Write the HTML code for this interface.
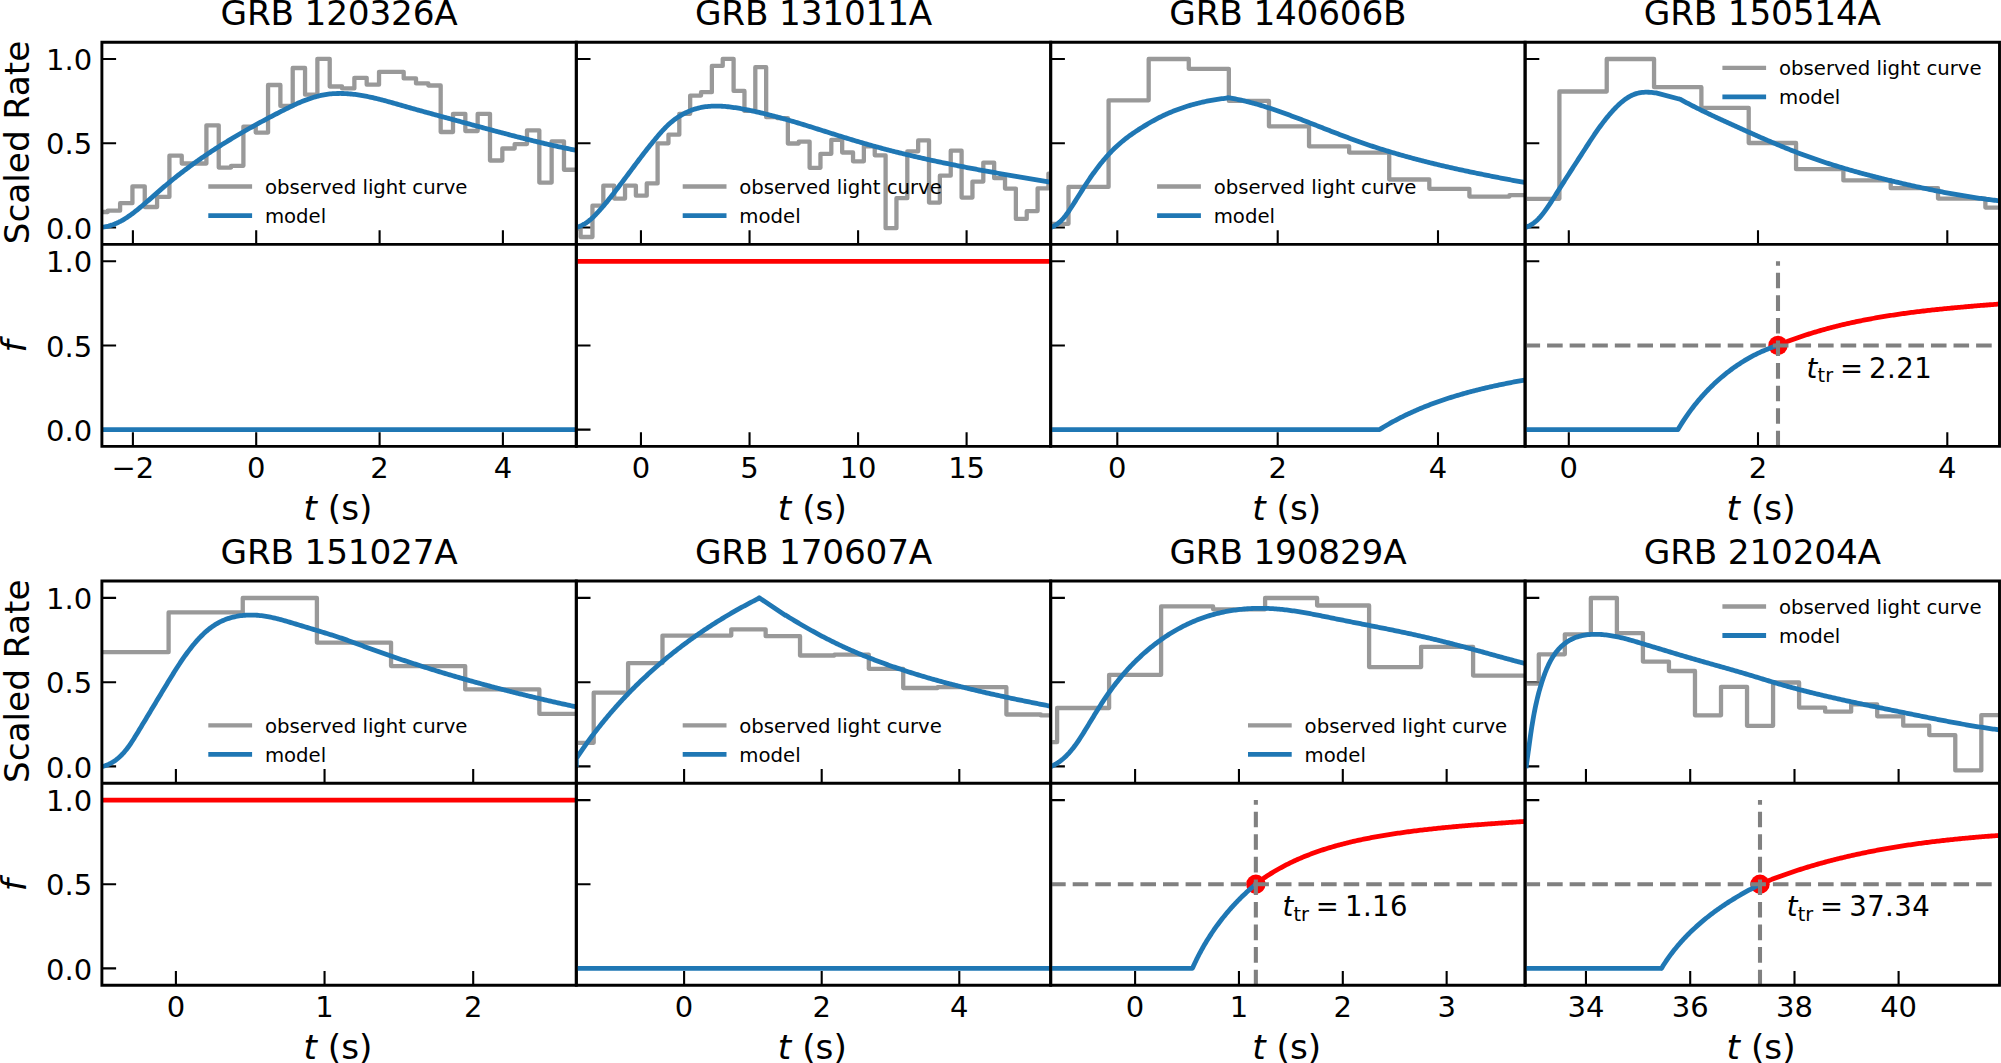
<!DOCTYPE html>
<html lang="en"><head><meta charset="utf-8"><title>GRB light curves</title>
<style>html,body{margin:0;padding:0;background:#fff}svg{display:block}</style></head>
<body>
<svg width="2001" height="1063" viewBox="0 0 2001 1063" font-family="'DejaVu Sans', 'Liberation Sans', sans-serif" fill="#000">
<rect width="2001" height="1063" fill="#fff"/>
<defs>
<clipPath id="ct0"><rect x="101.9" y="42.3" width="474.4" height="202.1"/></clipPath>
<clipPath id="cb0"><rect x="101.9" y="244.4" width="474.4" height="202"/></clipPath>
<clipPath id="ct1"><rect x="576.3" y="42.3" width="474.4" height="202.1"/></clipPath>
<clipPath id="cb1"><rect x="576.3" y="244.4" width="474.4" height="202"/></clipPath>
<clipPath id="ct2"><rect x="1050.7" y="42.3" width="474.4" height="202.1"/></clipPath>
<clipPath id="cb2"><rect x="1050.7" y="244.4" width="474.4" height="202"/></clipPath>
<clipPath id="ct3"><rect x="1525.1" y="42.3" width="474.4" height="202.1"/></clipPath>
<clipPath id="cb3"><rect x="1525.1" y="244.4" width="474.4" height="202"/></clipPath>
<clipPath id="ct4"><rect x="101.9" y="581" width="474.4" height="202.2"/></clipPath>
<clipPath id="cb4"><rect x="101.9" y="783.2" width="474.4" height="202.1"/></clipPath>
<clipPath id="ct5"><rect x="576.3" y="581" width="474.4" height="202.2"/></clipPath>
<clipPath id="cb5"><rect x="576.3" y="783.2" width="474.4" height="202.1"/></clipPath>
<clipPath id="ct6"><rect x="1050.7" y="581" width="474.4" height="202.2"/></clipPath>
<clipPath id="cb6"><rect x="1050.7" y="783.2" width="474.4" height="202.1"/></clipPath>
<clipPath id="ct7"><rect x="1525.1" y="581" width="474.4" height="202.2"/></clipPath>
<clipPath id="cb7"><rect x="1525.1" y="783.2" width="474.4" height="202.1"/></clipPath>
</defs>
<g id="panel0">
<path d="M132.9 244.4v-14.2M132.9 446.4v-14.2M256.2 244.4v-14.2M256.2 446.4v-14.2M379.6 244.4v-14.2M379.6 446.4v-14.2M502.9 244.4v-14.2M502.9 446.4v-14.2M101.9 59h14.2M101.9 143.2h14.2M101.9 227.5h14.2M101.9 261.3h14.2M101.9 345.45h14.2M101.9 429.6h14.2" stroke="#000" stroke-width="2.1" fill="none"/>
<g clip-path="url(#ct0)" fill="none" stroke-linejoin="round">
<path d="M95.44 212H107.77V210.7H120.1V203.2H132.43V186.3H144.76V207H157.09V196.9H169.42V155.65H181.75V163.5H194.08V163.5H206.41V125.3H218.74V167.6H231.07V165.8H243.4V126.6H255.73V132.6H268.06V85H280.39V105.9H292.72V68H305.05V94.7H317.38V58.8H329.71V86.5H342.04V88.4H354.37V77.8H366.7V84.7H379.03V71.8H391.36V71.8H403.69V78.4H416.02V83.4H428.35V85.5H440.68V132H453.01V113.8H465.34V131H477.67V113.8H490V160.5H502.33V148.5H514.66V144.1H526.99V130.3H539.32V182.55H551.65V141.35H563.98V169.75H576.31V169.75H588.64" stroke="#808080" stroke-opacity="0.8" stroke-width="4.3"/>
<path d="M101 227.37L102.56 227.19L104.1 226.96L105.61 226.69L107.1 226.37L108.58 226.01L110.03 225.6L111.46 225.15L112.88 224.67L114.27 224.14L115.65 223.58L117.01 222.99L118.36 222.36L119.68 221.7L121 221.01L122.3 220.29L123.58 219.55L124.86 218.78L126.12 217.99L127.37 217.17L128.6 216.33L129.83 215.48L131.05 214.61L132.26 213.72L133.46 212.81L134.65 211.9L135.83 210.97L137.01 210.03L138.18 209.09L139.35 208.14L140.51 207.18L141.66 206.21L142.82 205.24L143.96 204.27L145.11 203.29L146.25 202.3L147.39 201.31L148.53 200.32L149.66 199.33L150.79 198.33L151.93 197.34L153.06 196.34L154.19 195.34L155.32 194.34L156.46 193.35L157.59 192.35L158.73 191.36L159.86 190.36L161 189.37L162.15 188.39L163.29 187.41L164.44 186.43L165.59 185.46L166.75 184.49L167.91 183.52L169.07 182.56L170.24 181.6L171.4 180.65L172.58 179.7L173.75 178.75L174.93 177.81L176.11 176.87L177.29 175.94L178.48 175.01L179.67 174.09L180.86 173.16L182.06 172.25L183.25 171.33L184.46 170.42L185.66 169.52L186.87 168.61L188.07 167.71L189.29 166.82L190.5 165.93L191.72 165.04L192.94 164.16L194.16 163.28L195.38 162.4L196.61 161.53L197.84 160.66L199.07 159.8L200.31 158.93L201.54 158.08L202.78 157.22L204.02 156.37L205.27 155.53L206.51 154.68L207.76 153.84L209.01 153.01L210.26 152.17L211.52 151.35L212.77 150.52L214.03 149.7L215.29 148.88L216.55 148.06L217.82 147.25L219.08 146.45L220.35 145.64L221.62 144.84L222.89 144.04L224.17 143.25L225.44 142.46L226.72 141.67L228 140.88L229.28 140.1L230.56 139.33L231.85 138.55L233.13 137.78L234.42 137.01L235.71 136.25L237 135.48L238.29 134.72L239.59 133.97L240.88 133.21L242.18 132.46L243.48 131.71L244.78 130.97L246.09 130.22L247.39 129.48L248.7 128.75L250.01 128.01L251.32 127.28L252.63 126.55L253.94 125.82L255.26 125.09L256.58 124.37L257.9 123.65L259.22 122.93L260.54 122.21L261.87 121.5L263.19 120.78L264.52 120.07L265.85 119.36L267.18 118.65L268.52 117.95L269.85 117.24L271.19 116.54L272.53 115.84L273.87 115.14L275.21 114.44L276.56 113.75L277.91 113.05L279.25 112.36L280.61 111.67L281.96 110.98L283.31 110.29L284.67 109.6L286.03 108.92L287.39 108.24L288.75 107.57L290.11 106.9L291.48 106.24L292.85 105.59L294.23 104.94L295.6 104.31L296.98 103.68L298.37 103.07L299.75 102.46L301.14 101.87L302.53 101.3L303.93 100.73L305.33 100.19L306.74 99.65L308.14 99.14L309.56 98.64L310.97 98.16L312.39 97.7L313.82 97.26L315.25 96.84L316.68 96.45L318.12 96.07L319.57 95.72L321.02 95.39L322.47 95.09L323.93 94.81L325.39 94.57L326.87 94.34L328.34 94.15L329.82 93.98L331.3 93.84L332.79 93.72L334.28 93.62L335.77 93.55L337.26 93.5L338.75 93.48L340.24 93.47L341.73 93.49L343.22 93.52L344.71 93.58L346.2 93.66L347.69 93.75L349.18 93.86L350.67 93.99L352.15 94.14L353.64 94.3L355.13 94.48L356.61 94.68L358.09 94.89L359.58 95.12L361.06 95.35L362.54 95.61L364.02 95.87L365.5 96.15L366.98 96.44L368.46 96.74L369.94 97.05L371.42 97.37L372.89 97.71L374.37 98.05L375.84 98.4L377.32 98.76L378.79 99.12L380.26 99.49L381.74 99.87L383.21 100.26L384.68 100.65L386.14 101.05L387.61 101.45L389.08 101.85L390.55 102.26L392.01 102.67L393.48 103.09L394.94 103.5L396.4 103.92L397.86 104.34L399.32 104.76L400.78 105.17L402.24 105.59L403.7 106.01L405.16 106.42L406.61 106.83L408.07 107.25L409.52 107.66L410.98 108.07L412.43 108.47L413.88 108.88L415.33 109.29L416.78 109.69L418.23 110.1L419.68 110.5L421.13 110.9L422.58 111.3L424.03 111.7L425.47 112.1L426.92 112.5L428.37 112.9L429.81 113.3L431.26 113.69L432.7 114.09L434.15 114.48L435.59 114.88L437.04 115.27L438.48 115.67L439.93 116.06L441.37 116.45L442.81 116.85L444.26 117.24L445.7 117.63L447.15 118.02L448.59 118.41L450.04 118.8L451.48 119.2L452.92 119.59L454.37 119.98L455.81 120.37L457.26 120.76L458.7 121.15L460.15 121.54L461.6 121.94L463.04 122.33L464.49 122.72L465.94 123.11L467.39 123.51L468.84 123.9L470.28 124.29L471.73 124.69L473.18 125.08L474.63 125.47L476.09 125.87L477.54 126.26L478.99 126.65L480.44 127.05L481.89 127.44L483.35 127.83L484.8 128.22L486.25 128.62L487.71 129.01L489.16 129.4L490.62 129.79L492.07 130.18L493.53 130.57L494.99 130.96L496.44 131.35L497.9 131.74L499.36 132.13L500.82 132.51L502.27 132.9L503.73 133.29L505.19 133.67L506.65 134.05L508.11 134.44L509.57 134.82L511.03 135.2L512.49 135.58L513.95 135.95L515.41 136.33L516.87 136.71L518.33 137.08L519.8 137.45L521.26 137.83L522.72 138.2L524.18 138.56L525.65 138.93L527.11 139.3L528.57 139.66L530.04 140.02L531.5 140.38L532.96 140.74L534.43 141.1L535.89 141.45L537.36 141.81L538.82 142.16L540.29 142.51L541.75 142.85L543.22 143.2L544.68 143.54L546.15 143.88L547.62 144.22L549.08 144.56L550.55 144.89L552.01 145.23L553.48 145.55L554.95 145.88L556.41 146.21L557.88 146.53L559.35 146.85L560.82 147.16L562.28 147.48L563.75 147.79L565.22 148.1L566.69 148.41L568.15 148.71L569.62 149.01L571.09 149.31L572.56 149.6L574.02 149.89L575.49 150.18L576.96 150.47" stroke="#1f77b4" stroke-width="4.8"/>
</g>
<g clip-path="url(#cb0)" fill="none" stroke-linejoin="round">
<path d="M90 429.6L590 429.6" stroke="#1f77b4" stroke-width="4.8"/>
</g>
<path d="M101.9 42.3H576.3V446.4H101.9ZM101.9 244.4H576.3" stroke="#000" stroke-width="2.9" fill="none" stroke-linejoin="miter"/>
<text x="339.1" y="24.7" font-size="34.3" text-anchor="middle" letter-spacing="-0.2">GRB 120326A</text>
<text x="132.9" y="478.3" font-size="29.0" text-anchor="middle">−2</text>
<text x="256.2" y="478.3" font-size="29.0" text-anchor="middle">0</text>
<text x="379.6" y="478.3" font-size="29.0" text-anchor="middle">2</text>
<text x="502.9" y="478.3" font-size="29.0" text-anchor="middle">4</text>
<text x="337.9" y="519.8" font-size="34.3" text-anchor="middle"><tspan font-style="italic">t</tspan> (s)</text>
<text x="92.1" y="70.1" font-size="29.0" text-anchor="end">1.0</text>
<text x="92.1" y="154.3" font-size="29.0" text-anchor="end">0.5</text>
<text x="92.1" y="238.6" font-size="29.0" text-anchor="end">0.0</text>
<text x="92.1" y="272.4" font-size="29.0" text-anchor="end">1.0</text>
<text x="92.1" y="356.55" font-size="29.0" text-anchor="end">0.5</text>
<text x="92.1" y="440.7" font-size="29.0" text-anchor="end">0.0</text>
<text transform="translate(29 142.55) rotate(-90)" font-size="34.3" text-anchor="middle">Scaled Rate</text>
<text transform="translate(26 346.4) rotate(-90)" font-size="34.3" text-anchor="middle" font-style="italic">f</text>
<path d="M208.3 186.5H252.1" stroke="#999999" stroke-width="4.3"/>
<path d="M208.3 215.65H252.1" stroke="#1f77b4" stroke-width="4.8"/>
<text x="264.9" y="193.8" font-size="19.7">observed light curve</text>
<text x="264.9" y="222.95" font-size="19.7">model</text>
</g>
<g id="panel1">
<path d="M640.95 244.4v-14.2M640.95 446.4v-14.2M749.55 244.4v-14.2M749.55 446.4v-14.2M858.1 244.4v-14.2M858.1 446.4v-14.2M966.6 244.4v-14.2M966.6 446.4v-14.2M576.3 59h14.2M576.3 143.2h14.2M576.3 227.5h14.2M576.3 261.3h14.2M576.3 345.45h14.2M576.3 429.6h14.2" stroke="#000" stroke-width="2.1" fill="none"/>
<g clip-path="url(#ct1)" fill="none" stroke-linejoin="round">
<path d="M570.74 228.5H580.6V237H592.46V205.7H603.32V185.7H614.17V198.6H625.03V185.7H635.89V195.7H646.74V183.4H657.6V143.3H668.46V134.7H679.31V113.8H690.17V95.55H701.03V92.2H711.88V65.9H722.74V58.8H733.6V90.9H744.46V110.9H755.31V67.15H766.17V117.2H777.03V118.1H787.88V143.5H798.74V141.6H809.6V167.8H820.46V153.8H831.31V139.8H842.17V152.5H853.03V161.3H863.88V146.3H874.74V155.3H885.6V228.2H896.45V198.2H907.31V151.3H918.17V140.4H929.02V202.6H939.88V175.7H950.74V150.7H961.6V197.6H972.45V181.6H983.31V162.55H994.17V178.2H1005.02V188.6H1015.88V218.9H1026.74V211.1H1037.6V188.3H1048.45V173.6H1059.31" stroke="#808080" stroke-opacity="0.8" stroke-width="4.3"/>
<path d="M575.51 227.59L577.03 227.19L578.49 226.72L579.92 226.19L581.3 225.6L582.65 224.94L583.96 224.23L585.23 223.47L586.47 222.65L587.68 221.8L588.86 220.9L590.01 219.96L591.14 218.99L592.25 217.98L593.34 216.95L594.41 215.89L595.46 214.82L596.5 213.72L597.53 212.62L598.54 211.5L599.55 210.37L600.55 209.24L601.55 208.11L602.53 206.97L603.51 205.82L604.49 204.67L605.46 203.51L606.42 202.35L607.38 201.19L608.33 200.02L609.28 198.85L610.22 197.67L611.16 196.49L612.09 195.31L613.02 194.13L613.95 192.94L614.87 191.75L615.79 190.56L616.71 189.36L617.63 188.17L618.54 186.97L619.45 185.77L620.36 184.57L621.27 183.37L622.18 182.17L623.08 180.96L623.98 179.76L624.89 178.55L625.79 177.35L626.69 176.14L627.59 174.94L628.49 173.73L629.39 172.53L630.29 171.32L631.19 170.11L632.09 168.91L632.99 167.7L633.89 166.5L634.79 165.3L635.69 164.09L636.59 162.89L637.5 161.69L638.4 160.49L639.31 159.29L640.22 158.1L641.13 156.9L642.04 155.71L642.96 154.52L643.88 153.33L644.8 152.14L645.72 150.95L646.64 149.77L647.57 148.59L648.5 147.41L649.44 146.23L650.37 145.06L651.32 143.89L652.26 142.72L653.21 141.56L654.16 140.4L655.12 139.24L656.08 138.09L657.05 136.94L658.02 135.79L659 134.65L659.98 133.52L660.97 132.39L661.97 131.27L662.99 130.16L664.01 129.06L665.06 127.98L666.11 126.91L667.19 125.85L668.29 124.81L669.4 123.8L670.54 122.8L671.7 121.82L672.89 120.87L674.09 119.94L675.32 119.03L676.57 118.15L677.83 117.29L679.11 116.46L680.41 115.66L681.73 114.88L683.06 114.14L684.4 113.42L685.76 112.74L687.13 112.08L688.51 111.46L689.9 110.87L691.3 110.32L692.7 109.8L694.12 109.32L695.54 108.87L696.97 108.46L698.41 108.08L699.85 107.74L701.29 107.44L702.75 107.17L704.2 106.93L705.66 106.72L707.13 106.54L708.59 106.39L710.07 106.28L711.54 106.18L713.02 106.12L714.5 106.08L715.99 106.07L717.48 106.08L718.97 106.11L720.46 106.17L721.95 106.24L723.45 106.34L724.94 106.46L726.44 106.59L727.94 106.75L729.44 106.92L730.94 107.1L732.44 107.3L733.94 107.51L735.44 107.74L736.94 107.98L738.44 108.23L739.94 108.48L741.44 108.75L742.93 109.03L744.42 109.31L745.91 109.6L747.4 109.9L748.89 110.2L750.38 110.51L751.86 110.82L753.34 111.14L754.82 111.46L756.3 111.79L757.77 112.12L759.25 112.46L760.72 112.81L762.19 113.15L763.66 113.51L765.13 113.86L766.59 114.23L768.06 114.59L769.52 114.96L770.98 115.34L772.44 115.72L773.9 116.1L775.35 116.49L776.81 116.88L778.26 117.27L779.72 117.67L781.17 118.07L782.62 118.47L784.07 118.88L785.52 119.29L786.96 119.7L788.41 120.12L789.85 120.54L791.3 120.96L792.74 121.39L794.18 121.81L795.63 122.24L797.07 122.67L798.51 123.11L799.94 123.54L801.38 123.98L802.82 124.42L804.26 124.86L805.69 125.3L807.13 125.75L808.57 126.19L810 126.64L811.43 127.08L812.87 127.53L814.3 127.98L815.74 128.43L817.17 128.89L818.6 129.34L820.03 129.79L821.47 130.24L822.9 130.7L824.33 131.15L825.76 131.6L827.19 132.06L828.62 132.51L830.06 132.96L831.49 133.42L832.92 133.87L834.35 134.32L835.78 134.77L837.22 135.22L838.65 135.67L840.08 136.12L841.52 136.57L842.95 137.02L844.38 137.46L845.82 137.91L847.25 138.35L848.69 138.79L850.12 139.23L851.56 139.67L853 140.1L854.44 140.54L855.87 140.97L857.31 141.4L858.75 141.82L860.19 142.25L861.63 142.67L863.08 143.09L864.52 143.51L865.96 143.92L867.41 144.33L868.85 144.74L870.3 145.15L871.75 145.55L873.2 145.96L874.64 146.36L876.09 146.75L877.54 147.15L878.99 147.54L880.45 147.93L881.9 148.32L883.35 148.71L884.8 149.09L886.26 149.47L887.71 149.85L889.17 150.23L890.62 150.6L892.08 150.98L893.54 151.35L895 151.72L896.46 152.08L897.92 152.45L899.38 152.81L900.84 153.17L902.3 153.53L903.76 153.88L905.22 154.24L906.68 154.59L908.15 154.94L909.61 155.29L911.08 155.63L912.54 155.98L914.01 156.32L915.47 156.66L916.94 157L918.41 157.34L919.87 157.67L921.34 158.01L922.81 158.34L924.28 158.67L925.75 158.99L927.22 159.32L928.69 159.64L930.16 159.97L931.63 160.29L933.1 160.61L934.58 160.93L936.05 161.24L937.52 161.56L939 161.87L940.47 162.18L941.94 162.49L943.42 162.8L944.89 163.1L946.37 163.41L947.84 163.71L949.32 164.01L950.8 164.31L952.27 164.61L953.75 164.91L955.23 165.21L956.7 165.5L958.18 165.8L959.66 166.09L961.14 166.38L962.62 166.67L964.1 166.96L965.57 167.24L967.05 167.53L968.53 167.81L970.01 168.09L971.49 168.38L972.97 168.66L974.45 168.94L975.93 169.21L977.41 169.49L978.89 169.77L980.38 170.04L981.86 170.32L983.34 170.59L984.82 170.86L986.3 171.13L987.78 171.4L989.26 171.67L990.75 171.94L992.23 172.2L993.71 172.47L995.19 172.73L996.67 173L998.16 173.26L999.64 173.52L1001.12 173.78L1002.6 174.04L1004.09 174.3L1005.57 174.56L1007.05 174.82L1008.53 175.07L1010.02 175.33L1011.5 175.58L1012.98 175.84L1014.46 176.09L1015.94 176.34L1017.43 176.6L1018.91 176.85L1020.39 177.1L1021.87 177.35L1023.36 177.6L1024.84 177.85L1026.32 178.1L1027.8 178.35L1029.28 178.59L1030.76 178.84L1032.25 179.09L1033.73 179.33L1035.21 179.58L1036.69 179.82L1038.17 180.07L1039.65 180.31L1041.13 180.55L1042.61 180.8L1044.09 181.04L1045.57 181.28L1047.05 181.53L1048.53 181.77L1050.01 182.01L1051.49 182.25" stroke="#1f77b4" stroke-width="4.8"/>
</g>
<g clip-path="url(#cb1)" fill="none" stroke-linejoin="round">
<path d="M570 261.3L1060 261.3" stroke="#ff0000" stroke-width="4.8"/>
</g>
<path d="M576.3 42.3H1050.7V446.4H576.3ZM576.3 244.4H1050.7" stroke="#000" stroke-width="2.9" fill="none" stroke-linejoin="miter"/>
<text x="813.5" y="24.7" font-size="34.3" text-anchor="middle" letter-spacing="-0.2">GRB 131011A</text>
<text x="640.95" y="478.3" font-size="29.0" text-anchor="middle">0</text>
<text x="749.55" y="478.3" font-size="29.0" text-anchor="middle">5</text>
<text x="858.1" y="478.3" font-size="29.0" text-anchor="middle">10</text>
<text x="966.6" y="478.3" font-size="29.0" text-anchor="middle">15</text>
<text x="812.3" y="519.8" font-size="34.3" text-anchor="middle"><tspan font-style="italic">t</tspan> (s)</text>
<path d="M682.7 186.5H726.5" stroke="#999999" stroke-width="4.3"/>
<path d="M682.7 215.65H726.5" stroke="#1f77b4" stroke-width="4.8"/>
<text x="739.3" y="193.8" font-size="19.7">observed light curve</text>
<text x="739.3" y="222.95" font-size="19.7">model</text>
</g>
<g id="panel2">
<path d="M1117.3 244.4v-14.2M1117.3 446.4v-14.2M1277.7 244.4v-14.2M1277.7 446.4v-14.2M1438 244.4v-14.2M1438 446.4v-14.2M1050.7 59h14.2M1050.7 143.2h14.2M1050.7 227.5h14.2M1050.7 261.3h14.2M1050.7 345.45h14.2M1050.7 429.6h14.2" stroke="#000" stroke-width="2.1" fill="none"/>
<g clip-path="url(#ct2)" fill="none" stroke-linejoin="round">
<path d="M1028.41 223.8H1068.5V186.9H1108.59V100.3H1148.68V59H1188.77V68.8H1228.86V100.9H1268.95V126.3H1309.04V146.3H1349.13V152.6H1389.22V179.5H1429.31V188.85H1469.4V196.6H1509.49V195.1H1549.58" stroke="#808080" stroke-opacity="0.8" stroke-width="4.3"/>
<path d="M1050.1 227.75L1051.56 227.18L1052.96 226.54L1054.3 225.83L1055.59 225.06L1056.83 224.23L1058.03 223.35L1059.18 222.42L1060.29 221.44L1061.35 220.41L1062.39 219.35L1063.39 218.24L1064.36 217.11L1065.3 215.94L1066.21 214.75L1067.11 213.54L1067.99 212.31L1068.85 211.06L1069.69 209.79L1070.53 208.52L1071.36 207.25L1072.18 205.97L1073 204.69L1073.81 203.41L1074.63 202.13L1075.44 200.85L1076.24 199.57L1077.05 198.29L1077.85 197.01L1078.66 195.73L1079.46 194.45L1080.27 193.17L1081.08 191.89L1081.88 190.61L1082.69 189.34L1083.5 188.06L1084.32 186.79L1085.14 185.52L1085.96 184.26L1086.79 182.99L1087.62 181.73L1088.45 180.48L1089.3 179.22L1090.15 177.97L1091 176.72L1091.87 175.48L1092.74 174.24L1093.62 173.01L1094.5 171.78L1095.4 170.56L1096.3 169.34L1097.21 168.13L1098.13 166.93L1099.05 165.73L1099.99 164.54L1100.93 163.36L1101.88 162.18L1102.84 161.02L1103.81 159.86L1104.79 158.71L1105.78 157.56L1106.78 156.43L1107.79 155.31L1108.81 154.2L1109.83 153.09L1110.87 152L1111.92 150.92L1112.98 149.85L1114.05 148.79L1115.13 147.75L1116.22 146.71L1117.33 145.69L1118.44 144.68L1119.57 143.68L1120.7 142.7L1121.85 141.73L1123.01 140.78L1124.19 139.83L1125.37 138.9L1126.56 137.99L1127.76 137.08L1128.97 136.19L1130.19 135.3L1131.42 134.43L1132.66 133.56L1133.9 132.71L1135.15 131.86L1136.41 131.03L1137.67 130.2L1138.94 129.37L1140.21 128.56L1141.49 127.75L1142.77 126.94L1144.06 126.15L1145.35 125.36L1146.64 124.58L1147.94 123.81L1149.25 123.04L1150.56 122.29L1151.87 121.54L1153.19 120.8L1154.52 120.07L1155.85 119.35L1157.18 118.65L1158.52 117.95L1159.87 117.26L1161.22 116.59L1162.57 115.92L1163.94 115.27L1165.3 114.63L1166.67 114L1168.05 113.39L1169.44 112.78L1170.82 112.19L1172.22 111.61L1173.62 111.05L1175.02 110.49L1176.43 109.95L1177.84 109.42L1179.26 108.9L1180.68 108.39L1182.11 107.9L1183.54 107.41L1184.97 106.94L1186.41 106.48L1187.85 106.03L1189.3 105.59L1190.74 105.17L1192.2 104.75L1193.65 104.35L1195.11 103.96L1196.58 103.58L1198.04 103.2L1199.51 102.85L1200.98 102.5L1202.45 102.16L1203.93 101.83L1205.41 101.52L1206.89 101.21L1208.37 100.92L1209.86 100.63L1211.35 100.36L1212.84 100.09L1214.33 99.84L1215.82 99.6L1217.31 99.37L1218.81 99.14L1220.31 98.93L1221.8 98.73L1223.3 98.54L1224.8 98.35L1226.3 98.18L1227.81 98.02L1227.86 97.63L1229.36 97.87L1230.85 98.12L1232.34 98.38L1233.83 98.66L1235.31 98.94L1236.79 99.24L1238.27 99.54L1239.75 99.85L1241.22 100.18L1242.69 100.51L1244.16 100.85L1245.62 101.21L1247.08 101.57L1248.54 101.93L1250 102.31L1251.46 102.7L1252.91 103.09L1254.36 103.49L1255.81 103.9L1257.25 104.32L1258.7 104.74L1260.14 105.17L1261.58 105.6L1263.02 106.05L1264.46 106.49L1265.89 106.95L1267.32 107.41L1268.76 107.87L1270.19 108.34L1271.61 108.82L1273.04 109.3L1274.47 109.78L1275.89 110.27L1277.32 110.76L1278.74 111.26L1280.16 111.76L1281.58 112.26L1283 112.77L1284.42 113.28L1285.83 113.79L1287.25 114.31L1288.66 114.83L1290.08 115.35L1291.49 115.88L1292.91 116.4L1294.32 116.93L1295.73 117.47L1297.14 118L1298.55 118.54L1299.96 119.07L1301.37 119.61L1302.78 120.15L1304.19 120.7L1305.59 121.24L1307 121.79L1308.41 122.33L1309.82 122.88L1311.22 123.43L1312.63 123.98L1314.03 124.53L1315.44 125.08L1316.85 125.63L1318.25 126.18L1319.66 126.73L1321.06 127.29L1322.47 127.84L1323.88 128.39L1325.28 128.94L1326.69 129.49L1328.1 130.04L1329.5 130.59L1330.91 131.14L1332.32 131.68L1333.72 132.23L1335.13 132.78L1336.54 133.32L1337.95 133.86L1339.36 134.4L1340.77 134.94L1342.18 135.48L1343.59 136.01L1345.01 136.55L1346.42 137.08L1347.83 137.61L1349.25 138.13L1350.66 138.66L1352.08 139.18L1353.5 139.7L1354.91 140.21L1356.33 140.72L1357.75 141.23L1359.17 141.74L1360.6 142.24L1362.02 142.74L1363.44 143.24L1364.87 143.73L1366.3 144.22L1367.73 144.7L1369.15 145.18L1370.58 145.66L1372.02 146.14L1373.45 146.61L1374.88 147.08L1376.32 147.54L1377.75 148L1379.19 148.46L1380.62 148.92L1382.06 149.37L1383.5 149.82L1384.94 150.27L1386.38 150.71L1387.82 151.15L1389.27 151.59L1390.71 152.02L1392.16 152.45L1393.6 152.88L1395.05 153.31L1396.5 153.73L1397.94 154.15L1399.39 154.57L1400.84 154.98L1402.3 155.39L1403.75 155.8L1405.2 156.21L1406.65 156.61L1408.11 157.01L1409.56 157.41L1411.02 157.81L1412.47 158.2L1413.93 158.59L1415.39 158.98L1416.85 159.36L1418.31 159.74L1419.77 160.12L1421.23 160.5L1422.69 160.88L1424.15 161.25L1425.61 161.62L1427.08 161.99L1428.54 162.36L1430 162.72L1431.47 163.08L1432.93 163.44L1434.4 163.8L1435.87 164.15L1437.33 164.51L1438.8 164.86L1440.27 165.21L1441.74 165.55L1443.21 165.9L1444.68 166.24L1446.15 166.58L1447.62 166.92L1449.09 167.25L1450.56 167.59L1452.04 167.92L1453.51 168.25L1454.98 168.58L1456.46 168.91L1457.93 169.24L1459.4 169.56L1460.88 169.88L1462.35 170.2L1463.83 170.52L1465.31 170.84L1466.78 171.15L1468.26 171.47L1469.74 171.78L1471.21 172.09L1472.69 172.4L1474.17 172.71L1475.65 173.01L1477.12 173.32L1478.6 173.62L1480.08 173.92L1481.56 174.22L1483.04 174.52L1484.52 174.82L1486 175.12L1487.48 175.41L1488.96 175.71L1490.44 176L1491.92 176.29L1493.4 176.58L1494.88 176.87L1496.36 177.16L1497.84 177.45L1499.32 177.74L1500.8 178.02L1502.28 178.3L1503.76 178.59L1505.25 178.87L1506.73 179.15L1508.21 179.43L1509.69 179.71L1511.17 179.99L1512.65 180.27L1514.13 180.55L1515.61 180.82L1517.09 181.1L1518.58 181.37L1520.06 181.65L1521.54 181.92L1523.02 182.2L1524.5 182.47L1525.98 182.74" stroke="#1f77b4" stroke-width="4.8"/>
</g>
<g clip-path="url(#cb2)" fill="none" stroke-linejoin="round">
<path d="M1040 429.6L1379.8 429.6L1379.7 429.45L1381 428.64L1382.3 427.84L1383.61 427.05L1384.92 426.27L1386.23 425.49L1387.55 424.72L1388.88 423.96L1390.2 423.21L1391.53 422.46L1392.87 421.73L1394.2 421L1395.55 420.28L1396.89 419.56L1398.24 418.86L1399.6 418.16L1400.95 417.47L1402.31 416.79L1403.68 416.11L1405.04 415.44L1406.41 414.78L1407.79 414.13L1409.17 413.48L1410.55 412.84L1411.93 412.21L1413.32 411.59L1414.71 410.97L1416.1 410.36L1417.5 409.75L1418.9 409.15L1420.3 408.56L1421.7 407.98L1423.11 407.4L1424.52 406.83L1425.94 406.27L1427.35 405.71L1428.77 405.16L1430.19 404.61L1431.62 404.07L1433.04 403.54L1434.47 403.01L1435.9 402.49L1437.34 401.97L1438.78 401.46L1440.21 400.96L1441.65 400.46L1443.1 399.97L1444.54 399.49L1445.99 399.01L1447.44 398.53L1448.89 398.06L1450.34 397.6L1451.8 397.14L1453.26 396.69L1454.71 396.24L1456.18 395.8L1457.64 395.36L1459.1 394.93L1460.57 394.5L1462.03 394.08L1463.5 393.66L1464.97 393.25L1466.44 392.84L1467.92 392.44L1469.39 392.04L1470.87 391.64L1472.34 391.25L1473.82 390.87L1475.3 390.49L1476.78 390.11L1478.26 389.74L1479.74 389.38L1481.23 389.01L1482.71 388.65L1484.2 388.3L1485.68 387.95L1487.17 387.6L1488.66 387.26L1490.14 386.92L1491.63 386.58L1493.12 386.25L1494.61 385.93L1496.1 385.6L1497.59 385.28L1499.08 384.96L1500.57 384.65L1502.07 384.34L1503.56 384.03L1505.05 383.73L1506.54 383.43L1508.03 383.13L1509.53 382.84L1511.02 382.55L1512.51 382.26L1514 381.97L1515.5 381.69L1516.99 381.41L1518.48 381.13L1519.97 380.86L1521.46 380.59L1522.95 380.32L1524.44 380.05L1525.93 379.78" stroke="#1f77b4" stroke-width="4.8"/>
</g>
<path d="M1050.7 42.3H1525.1V446.4H1050.7ZM1050.7 244.4H1525.1" stroke="#000" stroke-width="2.9" fill="none" stroke-linejoin="miter"/>
<text x="1287.9" y="24.7" font-size="34.3" text-anchor="middle" letter-spacing="-0.2">GRB 140606B</text>
<text x="1117.3" y="478.3" font-size="29.0" text-anchor="middle">0</text>
<text x="1277.7" y="478.3" font-size="29.0" text-anchor="middle">2</text>
<text x="1438" y="478.3" font-size="29.0" text-anchor="middle">4</text>
<text x="1286.7" y="519.8" font-size="34.3" text-anchor="middle"><tspan font-style="italic">t</tspan> (s)</text>
<path d="M1157.1 186.5H1200.9" stroke="#999999" stroke-width="4.3"/>
<path d="M1157.1 215.65H1200.9" stroke="#1f77b4" stroke-width="4.8"/>
<text x="1213.7" y="193.8" font-size="19.7">observed light curve</text>
<text x="1213.7" y="222.95" font-size="19.7">model</text>
</g>
<g id="panel3">
<path d="M1568.8 244.4v-14.2M1568.8 446.4v-14.2M1758 244.4v-14.2M1758 446.4v-14.2M1947.3 244.4v-14.2M1947.3 446.4v-14.2M1525.1 59h14.2M1525.1 143.2h14.2M1525.1 227.5h14.2M1525.1 261.3h14.2M1525.1 345.45h14.2M1525.1 429.6h14.2" stroke="#000" stroke-width="2.1" fill="none"/>
<g clip-path="url(#ct3)" fill="none" stroke-linejoin="round">
<path d="M1512.07 198.8H1559.4V91.5H1606.73V59H1654.06V87.2H1701.39V107.8H1748.72V143H1796.05V169.2H1843.38V180.4H1890.71V188.2H1938.04V198.6H1985.37V207.6H2032.7" stroke="#808080" stroke-opacity="0.8" stroke-width="4.3"/>
<path d="M1524.53 227.75L1526.01 227.25L1527.45 226.67L1528.83 226.03L1530.17 225.33L1531.46 224.56L1532.71 223.74L1533.92 222.86L1535.1 221.93L1536.23 220.95L1537.33 219.93L1538.4 218.87L1539.44 217.78L1540.46 216.65L1541.44 215.49L1542.41 214.31L1543.35 213.11L1544.27 211.89L1545.18 210.65L1546.07 209.41L1546.95 208.15L1547.82 206.9L1548.68 205.64L1549.53 204.37L1550.36 203.1L1551.2 201.83L1552.02 200.55L1552.84 199.27L1553.65 197.99L1554.46 196.71L1555.27 195.43L1556.08 194.14L1556.88 192.86L1557.68 191.57L1558.49 190.29L1559.29 189.01L1560.1 187.72L1560.9 186.44L1561.71 185.16L1562.52 183.88L1563.33 182.6L1564.15 181.33L1564.96 180.05L1565.78 178.77L1566.59 177.5L1567.41 176.22L1568.23 174.95L1569.05 173.67L1569.87 172.4L1570.69 171.12L1571.51 169.85L1572.33 168.58L1573.15 167.3L1573.97 166.03L1574.8 164.76L1575.62 163.48L1576.44 162.21L1577.27 160.94L1578.09 159.66L1578.91 158.39L1579.74 157.12L1580.56 155.84L1581.39 154.57L1582.21 153.29L1583.03 152.01L1583.86 150.74L1584.68 149.46L1585.5 148.18L1586.32 146.91L1587.15 145.63L1587.97 144.35L1588.8 143.08L1589.63 141.8L1590.46 140.53L1591.3 139.26L1592.14 137.99L1592.98 136.73L1593.82 135.47L1594.67 134.21L1595.53 132.95L1596.39 131.7L1597.26 130.45L1598.13 129.21L1599.01 127.97L1599.89 126.74L1600.79 125.52L1601.69 124.3L1602.6 123.08L1603.52 121.87L1604.45 120.67L1605.38 119.48L1606.33 118.3L1607.29 117.12L1608.26 115.95L1609.24 114.79L1610.23 113.64L1611.23 112.5L1612.25 111.36L1613.28 110.24L1614.32 109.13L1615.37 108.03L1616.44 106.94L1617.53 105.87L1618.63 104.81L1619.74 103.77L1620.88 102.76L1622.03 101.77L1623.2 100.81L1624.4 99.89L1625.61 99.01L1626.85 98.16L1628.11 97.36L1629.39 96.6L1630.7 95.9L1632.03 95.24L1633.39 94.64L1634.78 94.11L1636.2 93.63L1637.65 93.22L1639.12 92.88L1640.63 92.61L1642.17 92.42L1643.73 92.28L1645.3 92.21L1646.87 92.2L1648.45 92.23L1650.02 92.31L1651.58 92.44L1653.11 92.59L1654.61 92.78L1656.08 92.99L1656 92.9L1680 99.2L1680.01 99.17L1681.34 99.89L1682.67 100.62L1684 101.34L1685.33 102.05L1686.67 102.76L1688 103.47L1689.34 104.17L1690.68 104.87L1692.03 105.56L1693.37 106.25L1694.71 106.93L1696.06 107.62L1697.41 108.29L1698.76 108.97L1700.11 109.64L1701.47 110.31L1702.82 110.97L1704.18 111.64L1705.54 112.29L1706.9 112.95L1708.26 113.6L1709.62 114.26L1710.98 114.9L1712.34 115.55L1713.71 116.19L1715.08 116.83L1716.44 117.47L1717.81 118.11L1719.18 118.74L1720.55 119.38L1721.92 120.01L1723.29 120.64L1724.66 121.27L1726.04 121.9L1727.41 122.52L1728.78 123.15L1730.16 123.77L1731.53 124.39L1732.91 125.01L1734.29 125.63L1735.66 126.26L1737.04 126.88L1738.42 127.49L1739.8 128.11L1741.17 128.73L1742.55 129.35L1743.93 129.97L1745.31 130.59L1746.69 131.2L1748.07 131.82L1749.45 132.44L1750.82 133.05L1752.21 133.67L1753.59 134.28L1754.97 134.89L1756.35 135.5L1757.73 136.11L1759.11 136.72L1760.5 137.33L1761.88 137.94L1763.27 138.54L1764.65 139.14L1766.04 139.75L1767.42 140.34L1768.81 140.94L1770.2 141.54L1771.59 142.13L1772.98 142.72L1774.37 143.31L1775.76 143.9L1777.15 144.48L1778.55 145.07L1779.94 145.65L1781.34 146.22L1782.73 146.8L1784.13 147.37L1785.53 147.94L1786.93 148.51L1788.33 149.07L1789.73 149.63L1791.13 150.18L1792.54 150.74L1793.94 151.29L1795.35 151.83L1796.76 152.38L1798.17 152.92L1799.58 153.45L1800.99 153.98L1802.41 154.51L1803.82 155.03L1805.24 155.56L1806.65 156.07L1808.07 156.58L1809.49 157.09L1810.92 157.6L1812.34 158.1L1813.76 158.6L1815.19 159.09L1816.62 159.58L1818.04 160.07L1819.47 160.55L1820.9 161.03L1822.34 161.51L1823.77 161.98L1825.2 162.45L1826.64 162.92L1828.07 163.39L1829.51 163.85L1830.95 164.3L1832.39 164.76L1833.83 165.21L1835.27 165.66L1836.72 166.1L1838.16 166.54L1839.6 166.98L1841.05 167.42L1842.5 167.85L1843.94 168.28L1845.39 168.7L1846.84 169.13L1848.29 169.55L1849.74 169.97L1851.2 170.38L1852.65 170.8L1854.1 171.21L1855.56 171.61L1857.01 172.02L1858.47 172.42L1859.93 172.82L1861.38 173.22L1862.84 173.61L1864.3 174.01L1865.76 174.4L1867.22 174.79L1868.68 175.17L1870.15 175.55L1871.61 175.93L1873.07 176.31L1874.53 176.69L1876 177.06L1877.46 177.44L1878.93 177.81L1880.4 178.17L1881.86 178.54L1883.33 178.9L1884.8 179.27L1886.26 179.63L1887.73 179.99L1889.2 180.34L1890.67 180.7L1892.14 181.05L1893.61 181.4L1895.08 181.75L1896.55 182.1L1898.02 182.44L1899.49 182.79L1900.96 183.13L1902.44 183.47L1903.91 183.81L1905.38 184.15L1906.85 184.49L1908.33 184.82L1909.8 185.15L1911.27 185.49L1912.75 185.82L1914.22 186.14L1915.7 186.47L1917.17 186.79L1918.65 187.12L1920.12 187.44L1921.6 187.75L1923.08 188.07L1924.55 188.38L1926.03 188.7L1927.51 189.01L1928.99 189.31L1930.46 189.62L1931.94 189.92L1933.42 190.23L1934.9 190.52L1936.38 190.82L1937.86 191.12L1939.34 191.41L1940.82 191.7L1942.31 191.98L1943.79 192.27L1945.27 192.55L1946.75 192.83L1948.24 193.11L1949.72 193.38L1951.21 193.66L1952.69 193.92L1954.18 194.19L1955.66 194.46L1957.15 194.72L1958.64 194.97L1960.13 195.23L1961.61 195.48L1963.1 195.73L1964.59 195.98L1966.08 196.22L1967.57 196.46L1969.06 196.7L1970.55 196.94L1972.05 197.17L1973.54 197.4L1975.03 197.62L1976.53 197.84L1978.02 198.06L1979.52 198.28L1981.01 198.49L1982.51 198.7L1984 198.91L1985.5 199.11L1987 199.31L1988.5 199.5L1990 199.7L1991.5 199.88L1993 200.07L1994.5 200.25L1996 200.43L1997.51 200.6L1999.01 200.77L2000.51 200.94" stroke="#1f77b4" stroke-width="4.8"/>
</g>
<g clip-path="url(#cb3)" fill="none" stroke-linejoin="round">
<circle cx="1778" cy="345.45" r="9.7" fill="#ff0000"/>
<path d="M1515 429.6L1677.9 429.6L1677.94 429.58L1678.71 428.28L1679.48 426.98L1680.27 425.69L1681.06 424.41L1681.87 423.13L1682.68 421.85L1683.51 420.58L1684.34 419.32L1685.18 418.06L1686.04 416.8L1686.9 415.55L1687.77 414.31L1688.65 413.08L1689.54 411.84L1690.44 410.62L1691.35 409.4L1692.27 408.19L1693.19 406.98L1694.13 405.78L1695.07 404.59L1696.03 403.41L1696.99 402.23L1697.96 401.06L1698.94 399.89L1699.93 398.73L1700.93 397.58L1701.94 396.44L1702.95 395.31L1703.97 394.18L1705.01 393.06L1706.05 391.95L1707.1 390.84L1708.15 389.75L1709.22 388.66L1710.29 387.58L1711.38 386.51L1712.47 385.45L1713.57 384.39L1714.67 383.35L1715.79 382.31L1716.91 381.29L1718.04 380.27L1719.18 379.26L1720.33 378.26L1721.48 377.27L1722.65 376.29L1723.82 375.32L1725 374.36L1726.18 373.41L1727.38 372.47L1728.58 371.54L1729.79 370.62L1731 369.71L1732.23 368.81L1733.46 367.92L1734.7 367.05L1735.94 366.18L1737.2 365.32L1738.46 364.48L1739.72 363.64L1741 362.82L1742.28 362.01L1743.57 361.21L1744.87 360.42L1746.17 359.65L1747.48 358.88L1748.8 358.13L1750.12 357.39L1751.45 356.66L1752.79 355.95L1754.13 355.24L1755.48 354.55L1756.84 353.87L1758.21 353.21L1759.58 352.56L1760.95 351.92L1762.34 351.29L1763.73 350.68L1765.12 350.08L1766.53 349.49L1767.93 348.92L1769.35 348.36L1770.77 347.81L1772.2 347.28L1773.63 346.76L1775.07 346.26L1776.52 345.77L1777.97 345.29" stroke="#1f77b4" stroke-width="4.8"/>
<path d="M1777.89 345.24L1779.3 344.66L1780.71 344.09L1782.13 343.53L1783.54 342.98L1784.96 342.42L1786.38 341.88L1787.8 341.34L1789.22 340.81L1790.64 340.28L1792.07 339.76L1793.5 339.24L1794.93 338.73L1796.36 338.22L1797.79 337.72L1799.22 337.23L1800.65 336.74L1802.09 336.25L1803.53 335.77L1804.97 335.3L1806.41 334.83L1807.85 334.37L1809.29 333.91L1810.74 333.45L1812.19 333.01L1813.63 332.56L1815.08 332.12L1816.53 331.69L1817.98 331.26L1819.44 330.84L1820.89 330.42L1822.35 330.01L1823.8 329.6L1825.26 329.19L1826.72 328.79L1828.18 328.4L1829.64 328.01L1831.11 327.62L1832.57 327.24L1834.04 326.86L1835.5 326.49L1836.97 326.12L1838.44 325.76L1839.91 325.4L1841.38 325.04L1842.85 324.69L1844.33 324.35L1845.8 324.01L1847.27 323.67L1848.75 323.33L1850.23 323L1851.71 322.68L1853.19 322.35L1854.67 322.04L1856.15 321.72L1857.63 321.41L1859.11 321.1L1860.6 320.8L1862.08 320.5L1863.57 320.21L1865.05 319.92L1866.54 319.63L1868.03 319.34L1869.52 319.06L1871.01 318.79L1872.5 318.51L1873.99 318.24L1875.48 317.97L1876.97 317.71L1878.47 317.45L1879.96 317.19L1881.45 316.94L1882.95 316.69L1884.45 316.44L1885.94 316.2L1887.44 315.96L1888.94 315.72L1890.44 315.48L1891.94 315.25L1893.44 315.02L1894.94 314.8L1896.44 314.57L1897.94 314.35L1899.44 314.14L1900.94 313.92L1902.44 313.71L1903.95 313.5L1905.45 313.29L1906.96 313.09L1908.46 312.89L1909.97 312.69L1911.47 312.49L1912.98 312.3L1914.48 312.11L1915.99 311.92L1917.5 311.73L1919 311.55L1920.51 311.36L1922.02 311.18L1923.53 311L1925.03 310.83L1926.54 310.66L1928.05 310.48L1929.56 310.31L1931.07 310.15L1932.58 309.98L1934.09 309.82L1935.6 309.66L1937.11 309.5L1938.62 309.34L1940.13 309.18L1941.64 309.03L1943.15 308.87L1944.66 308.72L1946.17 308.57L1947.68 308.42L1949.19 308.28L1950.7 308.13L1952.21 307.99L1953.72 307.85L1955.23 307.71L1956.74 307.57L1958.25 307.43L1959.76 307.29L1961.27 307.15L1962.78 307.02L1964.29 306.89L1965.8 306.75L1967.3 306.62L1968.81 306.49L1970.32 306.36L1971.83 306.24L1973.34 306.11L1974.85 305.98L1976.36 305.86L1977.86 305.73L1979.37 305.61L1980.88 305.48L1982.38 305.36L1983.89 305.24L1985.4 305.12L1986.9 305L1988.41 304.88L1989.91 304.76L1991.42 304.64L1992.92 304.52L1994.42 304.4L1995.93 304.28L1997.43 304.17L1998.93 304.05L2000.43 303.93" stroke="#ff0000" stroke-width="4.8"/>
<path d="M1778 446.4V261.3" stroke="#808080" stroke-width="4.1" stroke-dasharray="15.6 6.98"/>
<path d="M1525.1 345.45H1999.5" stroke="#808080" stroke-width="4.1" stroke-dasharray="15.6 6.98" stroke-dashoffset="0.6"/>
</g>
<path d="M1525.1 42.3H1999.5V446.4H1525.1ZM1525.1 244.4H1999.5" stroke="#000" stroke-width="2.9" fill="none" stroke-linejoin="miter"/>
<text x="1762.3" y="24.7" font-size="34.3" text-anchor="middle" letter-spacing="-0.2">GRB 150514A</text>
<text x="1568.8" y="478.3" font-size="29.0" text-anchor="middle">0</text>
<text x="1758" y="478.3" font-size="29.0" text-anchor="middle">2</text>
<text x="1947.3" y="478.3" font-size="29.0" text-anchor="middle">4</text>
<text x="1761.1" y="519.8" font-size="34.3" text-anchor="middle"><tspan font-style="italic">t</tspan> (s)</text>
<path d="M1722.4 67.8H1766.1" stroke="#999999" stroke-width="4.3"/>
<path d="M1722.4 96.8H1766.1" stroke="#1f77b4" stroke-width="4.8"/>
<text x="1779" y="75.1" font-size="19.7">observed light curve</text>
<text x="1779" y="104.1" font-size="19.7">model</text>
<text font-size="27.5" y="377.65"><tspan x="1806.6" font-style="italic">t</tspan><tspan x="1817.6" dy="4.8" font-size="19.25">tr</tspan><tspan x="1840" dy="-4.8">=</tspan><tspan x="1869.1" letter-spacing="0.45">2.21</tspan></text>
</g>
<g id="panel4">
<path d="M175.9 783.2v-14.2M175.9 985.3v-14.2M324.55 783.2v-14.2M324.55 985.3v-14.2M473.2 783.2v-14.2M473.2 985.3v-14.2M101.9 597.9h14.2M101.9 682.2h14.2M101.9 766.4h14.2M101.9 800.1h14.2M101.9 884.25h14.2M101.9 968.4h14.2" stroke="#000" stroke-width="2.1" fill="none"/>
<g clip-path="url(#ct4)" fill="none" stroke-linejoin="round">
<path d="M94.45 652.2H168.6V612.4H242.75V598H316.9V642.6H391.05V666.05H465.2V689.45H539.35V713.85H613.5" stroke="#808080" stroke-opacity="0.8" stroke-width="4.3"/>
<path d="M101.07 766.78L102.63 766.4L104.15 765.97L105.62 765.48L107.06 764.94L108.45 764.35L109.81 763.71L111.13 763.02L112.42 762.29L113.67 761.51L114.88 760.69L116.07 759.83L117.22 758.94L118.35 758L119.44 757.03L120.51 756.03L121.56 755L122.58 753.93L123.58 752.84L124.55 751.72L125.5 750.58L126.44 749.41L127.36 748.22L128.26 747.02L129.14 745.79L130.01 744.55L130.87 743.3L131.71 742.03L132.54 740.75L133.37 739.46L134.18 738.17L134.99 736.86L135.8 735.56L136.6 734.25L137.39 732.94L138.19 731.64L138.98 730.33L139.77 729.03L140.56 727.72L141.34 726.42L142.13 725.12L142.91 723.82L143.7 722.52L144.48 721.23L145.26 719.93L146.04 718.64L146.82 717.34L147.6 716.05L148.37 714.76L149.15 713.46L149.92 712.17L150.7 710.88L151.47 709.59L152.25 708.3L153.02 707.02L153.79 705.73L154.57 704.44L155.34 703.16L156.11 701.87L156.88 700.58L157.66 699.3L158.43 698.01L159.2 696.73L159.98 695.45L160.75 694.16L161.52 692.88L162.3 691.59L163.07 690.31L163.85 689.03L164.63 687.74L165.4 686.46L166.18 685.18L166.96 683.89L167.74 682.61L168.52 681.33L169.31 680.04L170.09 678.76L170.88 677.48L171.66 676.19L172.46 674.91L173.25 673.63L174.05 672.35L174.85 671.07L175.65 669.8L176.46 668.52L177.28 667.25L178.09 665.98L178.92 664.72L179.75 663.45L180.59 662.19L181.43 660.94L182.28 659.69L183.14 658.44L184 657.2L184.88 655.96L185.76 654.73L186.65 653.5L187.55 652.28L188.46 651.07L189.38 649.86L190.31 648.66L191.25 647.46L192.2 646.28L193.16 645.1L194.14 643.92L195.12 642.76L196.12 641.6L197.13 640.46L198.16 639.33L199.19 638.21L200.25 637.1L201.31 636.01L202.39 634.94L203.48 633.89L204.59 632.85L205.71 631.84L206.85 630.84L208 629.87L209.17 628.93L210.36 628L211.56 627.11L212.78 626.24L214.02 625.41L215.27 624.6L216.54 623.82L217.83 623.08L219.13 622.37L220.46 621.69L221.8 621.05L223.16 620.45L224.53 619.88L225.92 619.34L227.33 618.83L228.74 618.36L230.17 617.92L231.61 617.52L233.06 617.14L234.52 616.8L235.99 616.49L237.47 616.21L238.96 615.96L240.45 615.74L241.95 615.55L243.45 615.39L244.95 615.26L246.46 615.16L247.98 615.09L249.49 615.05L251 615.03L252.52 615.04L254.03 615.09L255.54 615.15L257.05 615.25L258.55 615.37L260.05 615.52L261.55 615.69L263.05 615.88L264.54 616.1L266.03 616.34L267.52 616.6L269 616.87L270.48 617.17L271.96 617.48L273.44 617.8L274.91 618.15L276.38 618.5L277.85 618.87L279.32 619.25L280.78 619.64L282.25 620.04L283.71 620.45L285.17 620.86L286.62 621.29L288.08 621.71L289.53 622.15L290.98 622.58L292.43 623.02L293.88 623.46L295.33 623.89L296.78 624.33L298.22 624.77L299.66 625.21L301.11 625.65L302.55 626.08L303.99 626.52L305.43 626.96L306.87 627.4L308.31 627.84L309.75 628.27L311.19 628.71L312.62 629.15L314.06 629.59L315.5 630.02L316.94 630.46L318.38 630.9L319.82 631.33L321.25 631.77L322.69 632.21L324.13 632.65L325.57 633.09L327.01 633.53L328.45 633.97L329.89 634.42L331.32 634.87L332.76 635.32L334.19 635.78L335.63 636.24L337.06 636.71L338.49 637.18L339.92 637.66L341.34 638.14L342.77 638.63L344.19 639.13L345.61 639.63L347.03 640.13L348.45 640.64L349.87 641.16L351.29 641.67L352.7 642.19L354.12 642.71L355.53 643.23L356.95 643.76L358.36 644.28L359.78 644.81L361.19 645.34L362.6 645.86L364.02 646.38L365.43 646.91L366.85 647.43L368.27 647.95L369.68 648.47L371.1 648.98L372.52 649.5L373.94 650.01L375.36 650.52L376.78 651.03L378.2 651.54L379.62 652.04L381.04 652.55L382.46 653.05L383.88 653.55L385.3 654.05L386.73 654.55L388.15 655.04L389.58 655.54L391 656.03L392.43 656.52L393.85 657.01L395.28 657.5L396.71 657.98L398.13 658.47L399.56 658.95L400.99 659.43L402.42 659.91L403.85 660.39L405.28 660.87L406.71 661.34L408.14 661.82L409.57 662.29L411.01 662.76L412.44 663.23L413.87 663.7L415.31 664.16L416.74 664.63L418.17 665.09L419.61 665.55L421.05 666.01L422.48 666.47L423.92 666.92L425.36 667.38L426.79 667.83L428.23 668.28L429.67 668.73L431.11 669.18L432.55 669.63L433.99 670.07L435.43 670.52L436.87 670.96L438.31 671.4L439.75 671.84L441.19 672.28L442.64 672.72L444.08 673.15L445.52 673.58L446.97 674.02L448.41 674.45L449.86 674.88L451.3 675.3L452.75 675.73L454.19 676.16L455.64 676.58L457.09 677L458.54 677.42L459.98 677.84L461.43 678.26L462.88 678.67L464.33 679.09L465.78 679.5L467.23 679.91L468.68 680.32L470.13 680.73L471.58 681.14L473.03 681.55L474.49 681.95L475.94 682.36L477.39 682.76L478.84 683.16L480.3 683.56L481.75 683.96L483.21 684.35L484.66 684.75L486.12 685.14L487.57 685.53L489.03 685.92L490.48 686.31L491.94 686.7L493.4 687.09L494.86 687.47L496.31 687.86L497.77 688.24L499.23 688.62L500.69 689L502.15 689.38L503.61 689.76L505.07 690.13L506.53 690.51L507.99 690.88L509.45 691.25L510.91 691.62L512.37 691.99L513.84 692.36L515.3 692.73L516.76 693.09L518.23 693.46L519.69 693.82L521.15 694.18L522.62 694.54L524.08 694.9L525.55 695.26L527.01 695.62L528.48 695.97L529.94 696.33L531.41 696.68L532.88 697.03L534.34 697.38L535.81 697.73L537.28 698.08L538.74 698.42L540.21 698.77L541.68 699.11L543.15 699.45L544.62 699.8L546.09 700.14L547.56 700.48L549.03 700.81L550.5 701.15L551.97 701.49L553.44 701.82L554.91 702.15L556.38 702.48L557.85 702.82L559.32 703.14L560.8 703.47L562.27 703.8L563.74 704.13L565.21 704.45L566.69 704.77L568.16 705.1L569.63 705.42L571.11 705.74L572.58 706.06L574.06 706.37L575.53 706.69L577.01 707.01" stroke="#1f77b4" stroke-width="4.8"/>
</g>
<g clip-path="url(#cb4)" fill="none" stroke-linejoin="round">
<path d="M90 800.1L590 800.1" stroke="#ff0000" stroke-width="4.8"/>
</g>
<path d="M101.9 581H576.3V985.3H101.9ZM101.9 783.2H576.3" stroke="#000" stroke-width="2.9" fill="none" stroke-linejoin="miter"/>
<text x="339.1" y="564.2" font-size="34.3" text-anchor="middle" letter-spacing="-0.2">GRB 151027A</text>
<text x="175.9" y="1017.2" font-size="29.0" text-anchor="middle">0</text>
<text x="324.55" y="1017.2" font-size="29.0" text-anchor="middle">1</text>
<text x="473.2" y="1017.2" font-size="29.0" text-anchor="middle">2</text>
<text x="337.9" y="1058.7" font-size="34.3" text-anchor="middle"><tspan font-style="italic">t</tspan> (s)</text>
<text x="92.1" y="609" font-size="29.0" text-anchor="end">1.0</text>
<text x="92.1" y="693.3" font-size="29.0" text-anchor="end">0.5</text>
<text x="92.1" y="777.5" font-size="29.0" text-anchor="end">0.0</text>
<text x="92.1" y="811.2" font-size="29.0" text-anchor="end">1.0</text>
<text x="92.1" y="895.35" font-size="29.0" text-anchor="end">0.5</text>
<text x="92.1" y="979.5" font-size="29.0" text-anchor="end">0.0</text>
<text transform="translate(29 681.3) rotate(-90)" font-size="34.3" text-anchor="middle">Scaled Rate</text>
<text transform="translate(26 885.25) rotate(-90)" font-size="34.3" text-anchor="middle" font-style="italic">f</text>
<path d="M208.3 725.3H252.1" stroke="#999999" stroke-width="4.3"/>
<path d="M208.3 754.45H252.1" stroke="#1f77b4" stroke-width="4.8"/>
<text x="264.9" y="732.6" font-size="19.7">observed light curve</text>
<text x="264.9" y="761.75" font-size="19.7">model</text>
</g>
<g id="panel5">
<path d="M684.1 783.2v-14.2M684.1 985.3v-14.2M821.7 783.2v-14.2M821.7 985.3v-14.2M959.3 783.2v-14.2M959.3 985.3v-14.2M576.3 597.9h14.2M576.3 682.2h14.2M576.3 766.4h14.2M576.3 800.1h14.2M576.3 884.25h14.2M576.3 968.4h14.2" stroke="#000" stroke-width="2.1" fill="none"/>
<g clip-path="url(#ct5)" fill="none" stroke-linejoin="round">
<path d="M559.31 742.8H593.7V692.65H628.09V663.1H662.48V635.55H696.87V635.55H731.26V629.3H765.65V636.2H800.04V655.5H834.43V654.7H868.82V668.8H903.21V688H937.6V687.2H971.99V687.2H1006.38V714.5H1040.77V715.4H1075.16" stroke="#808080" stroke-opacity="0.8" stroke-width="4.3"/>
<path d="M576.3 767L576.3 758L576.52 758.2L577.36 756.93L578.21 755.66L579.05 754.4L579.9 753.14L580.76 751.88L581.62 750.62L582.48 749.37L583.35 748.12L584.22 746.87L585.1 745.63L585.98 744.39L586.87 743.16L587.76 741.92L588.65 740.69L589.55 739.47L590.45 738.24L591.35 737.02L592.26 735.8L593.18 734.59L594.1 733.38L595.02 732.17L595.94 730.97L596.87 729.77L597.81 728.57L598.74 727.38L599.69 726.18L600.63 725L601.58 723.81L602.54 722.63L603.49 721.45L604.46 720.28L605.42 719.11L606.39 717.94L607.36 716.78L608.34 715.61L609.32 714.46L610.31 713.3L611.3 712.15L612.29 711.01L613.29 709.86L614.29 708.72L615.29 707.58L616.3 706.45L617.31 705.32L618.33 704.19L619.35 703.07L620.37 701.95L621.39 700.83L622.43 699.72L623.46 698.61L624.5 697.51L625.54 696.4L626.58 695.3L627.63 694.21L628.68 693.12L629.74 692.03L630.8 690.94L631.86 689.86L632.93 688.79L634 687.71L635.07 686.64L636.15 685.57L637.23 684.51L638.32 683.45L639.4 682.4L640.5 681.34L641.59 680.3L642.69 679.25L643.79 678.21L644.9 677.17L646 676.14L647.12 675.11L648.23 674.08L649.35 673.06L650.47 672.04L651.6 671.02L652.73 670.01L653.86 669L655 668L656.13 667L657.28 666L658.42 665.01L659.57 664.02L660.72 663.03L661.88 662.05L663.04 661.07L664.2 660.1L665.37 659.13L666.53 658.16L667.7 657.2L668.88 656.24L670.06 655.28L671.24 654.33L672.42 653.38L673.61 652.44L674.8 651.5L675.99 650.56L677.19 649.63L678.39 648.7L679.59 647.78L680.8 646.86L682 645.94L683.22 645.03L684.43 644.12L685.65 643.21L686.87 642.31L688.09 641.41L689.32 640.52L690.54 639.63L691.78 638.74L693.01 637.86L694.25 636.98L695.49 636.11L696.73 635.23L697.98 634.37L699.22 633.5L700.48 632.65L701.73 631.79L702.99 630.94L704.25 630.09L705.51 629.25L706.77 628.41L708.04 627.57L709.31 626.74L710.58 625.91L711.86 625.09L713.13 624.27L714.42 623.45L715.7 622.64L716.98 621.83L718.27 621.03L719.56 620.23L720.86 619.43L722.15 618.64L723.45 617.85L724.75 617.06L726.05 616.28L727.36 615.51L728.66 614.73L729.97 613.96L731.29 613.2L732.6 612.44L733.92 611.68L735.24 610.93L736.56 610.18L737.88 609.43L739.21 608.69L740.54 607.96L741.87 607.22L743.2 606.49L744.54 605.77L745.88 605.05L747.22 604.33L748.56 603.62L749.9 602.91L751.25 602.21L752.6 601.5L753.95 600.81L755.3 600.12L756.65 599.43L758.01 598.74L759.37 598.06L759.2 597.8L785.2 615.3L785.33 615.03L786.62 615.84L787.91 616.64L789.2 617.43L790.49 618.23L791.79 619.02L793.09 619.81L794.38 620.59L795.69 621.37L796.99 622.15L798.29 622.93L799.6 623.7L800.9 624.47L802.21 625.23L803.52 626L804.84 626.75L806.15 627.51L807.47 628.26L808.79 629.01L810.11 629.75L811.43 630.49L812.76 631.22L814.08 631.96L815.41 632.68L816.74 633.41L818.08 634.13L819.41 634.84L820.75 635.55L822.09 636.26L823.43 636.97L824.77 637.66L826.11 638.36L827.46 639.05L828.81 639.73L830.16 640.42L831.52 641.09L832.87 641.76L834.23 642.43L835.59 643.1L836.95 643.75L838.32 644.41L839.68 645.06L841.05 645.7L842.42 646.34L843.79 646.98L845.17 647.61L846.55 648.24L847.92 648.86L849.3 649.48L850.69 650.09L852.07 650.7L853.46 651.31L854.85 651.91L856.24 652.5L857.63 653.1L859.02 653.69L860.42 654.27L861.81 654.85L863.21 655.43L864.61 656L866.02 656.57L867.42 657.13L868.83 657.69L870.23 658.25L871.64 658.8L873.05 659.35L874.46 659.89L875.88 660.44L877.29 660.97L878.71 661.51L880.13 662.04L881.54 662.56L882.97 663.09L884.39 663.61L885.81 664.12L887.24 664.63L888.66 665.14L890.09 665.65L891.52 666.15L892.95 666.65L894.38 667.14L895.81 667.64L897.24 668.12L898.68 668.61L900.11 669.09L901.55 669.57L902.99 670.05L904.43 670.52L905.87 670.99L907.31 671.45L908.75 671.92L910.19 672.38L911.64 672.84L913.08 673.29L914.53 673.74L915.97 674.19L917.42 674.64L918.87 675.08L920.32 675.52L921.77 675.95L923.22 676.39L924.67 676.82L926.13 677.25L927.58 677.68L929.03 678.1L930.49 678.52L931.94 678.94L933.4 679.35L934.86 679.77L936.32 680.18L937.78 680.58L939.24 680.99L940.7 681.39L942.16 681.79L943.62 682.19L945.08 682.59L946.55 682.98L948.01 683.37L949.47 683.76L950.94 684.14L952.4 684.53L953.87 684.91L955.34 685.29L956.81 685.67L958.27 686.04L959.74 686.41L961.21 686.78L962.68 687.15L964.15 687.52L965.62 687.88L967.09 688.25L968.57 688.61L970.04 688.97L971.51 689.32L972.99 689.68L974.46 690.03L975.93 690.38L977.41 690.73L978.88 691.08L980.36 691.42L981.84 691.77L983.31 692.11L984.79 692.45L986.27 692.79L987.74 693.12L989.22 693.46L990.7 693.79L992.18 694.12L993.66 694.45L995.14 694.78L996.62 695.11L998.1 695.43L999.58 695.76L1001.06 696.08L1002.54 696.4L1004.02 696.72L1005.5 697.04L1006.98 697.36L1008.46 697.67L1009.94 697.99L1011.43 698.3L1012.91 698.61L1014.39 698.92L1015.87 699.23L1017.36 699.54L1018.84 699.85L1020.32 700.16L1021.8 700.46L1023.29 700.76L1024.77 701.07L1026.25 701.37L1027.74 701.67L1029.22 701.97L1030.7 702.27L1032.19 702.57L1033.67 702.86L1035.15 703.16L1036.64 703.46L1038.12 703.75L1039.6 704.04L1041.09 704.34L1042.57 704.63L1044.05 704.92L1045.53 705.21L1047.02 705.5L1048.5 705.79L1049.98 706.08L1051.47 706.37" stroke="#1f77b4" stroke-width="4.8"/>
</g>
<g clip-path="url(#cb5)" fill="none" stroke-linejoin="round">
<path d="M570 968.4L1060 968.4" stroke="#1f77b4" stroke-width="4.8"/>
</g>
<path d="M576.3 581H1050.7V985.3H576.3ZM576.3 783.2H1050.7" stroke="#000" stroke-width="2.9" fill="none" stroke-linejoin="miter"/>
<text x="813.5" y="564.2" font-size="34.3" text-anchor="middle" letter-spacing="-0.2">GRB 170607A</text>
<text x="684.1" y="1017.2" font-size="29.0" text-anchor="middle">0</text>
<text x="821.7" y="1017.2" font-size="29.0" text-anchor="middle">2</text>
<text x="959.3" y="1017.2" font-size="29.0" text-anchor="middle">4</text>
<text x="812.3" y="1058.7" font-size="34.3" text-anchor="middle"><tspan font-style="italic">t</tspan> (s)</text>
<path d="M682.7 725.3H726.5" stroke="#999999" stroke-width="4.3"/>
<path d="M682.7 754.45H726.5" stroke="#1f77b4" stroke-width="4.8"/>
<text x="739.3" y="732.6" font-size="19.7">observed light curve</text>
<text x="739.3" y="761.75" font-size="19.7">model</text>
</g>
<g id="panel6">
<path d="M1135.1 783.2v-14.2M1135.1 985.3v-14.2M1238.95 783.2v-14.2M1238.95 985.3v-14.2M1342.8 783.2v-14.2M1342.8 985.3v-14.2M1446.65 783.2v-14.2M1446.65 985.3v-14.2M1050.7 597.9h14.2M1050.7 682.2h14.2M1050.7 766.4h14.2M1050.7 800.1h14.2M1050.7 884.25h14.2M1050.7 968.4h14.2" stroke="#000" stroke-width="2.1" fill="none"/>
<g clip-path="url(#ct6)" fill="none" stroke-linejoin="round">
<path d="M1005.1 742.2H1057.1V708H1109.1V674.8H1161.1V606.4H1213.1V609.3H1265.1V598H1317.1V605.5H1369.1V667.1H1421.1V646.8H1473.1V675.6H1525.1" stroke="#808080" stroke-opacity="0.8" stroke-width="4.3"/>
<path d="M1050.17 766.95L1051.57 766.32L1052.95 765.65L1054.29 764.93L1055.6 764.19L1056.88 763.4L1058.13 762.58L1059.35 761.73L1060.54 760.85L1061.71 759.93L1062.85 758.99L1063.97 758.01L1065.06 757.01L1066.13 755.98L1067.17 754.93L1068.2 753.85L1069.21 752.76L1070.19 751.64L1071.16 750.5L1072.11 749.34L1073.05 748.16L1073.96 746.97L1074.87 745.76L1075.76 744.54L1076.64 743.31L1077.5 742.07L1078.36 740.81L1079.2 739.55L1080.03 738.28L1080.86 737L1081.68 735.72L1082.5 734.43L1083.3 733.15L1084.11 731.86L1084.91 730.57L1085.7 729.28L1086.5 727.99L1087.29 726.7L1088.08 725.41L1088.86 724.12L1089.65 722.83L1090.43 721.54L1091.22 720.25L1092 718.97L1092.78 717.68L1093.57 716.4L1094.35 715.12L1095.14 713.84L1095.93 712.56L1096.72 711.28L1097.51 710.01L1098.31 708.73L1099.1 707.46L1099.91 706.2L1100.71 704.93L1101.52 703.67L1102.34 702.41L1103.16 701.16L1103.98 699.9L1104.81 698.65L1105.65 697.41L1106.49 696.17L1107.34 694.93L1108.2 693.7L1109.07 692.47L1109.94 691.25L1110.82 690.03L1111.71 688.81L1112.61 687.6L1113.52 686.4L1114.43 685.2L1115.35 684L1116.28 682.81L1117.22 681.63L1118.16 680.45L1119.11 679.28L1120.07 678.11L1121.04 676.95L1122.02 675.79L1123 674.64L1123.99 673.5L1124.99 672.36L1125.99 671.23L1127.01 670.1L1128.03 668.99L1129.05 667.87L1130.09 666.77L1131.13 665.67L1132.18 664.58L1133.24 663.5L1134.3 662.42L1135.37 661.35L1136.45 660.29L1137.54 659.24L1138.63 658.19L1139.73 657.15L1140.84 656.12L1141.95 655.1L1143.07 654.09L1144.2 653.08L1145.33 652.08L1146.47 651.1L1147.62 650.12L1148.78 649.14L1149.94 648.18L1151.11 647.23L1152.29 646.28L1153.47 645.35L1154.66 644.42L1155.85 643.51L1157.06 642.6L1158.27 641.7L1159.48 640.81L1160.7 639.93L1161.93 639.07L1163.17 638.21L1164.41 637.36L1165.66 636.52L1166.91 635.7L1168.17 634.88L1169.44 634.07L1170.72 633.28L1172 632.5L1173.28 631.72L1174.57 630.96L1175.87 630.21L1177.18 629.47L1178.49 628.74L1179.81 628.03L1181.13 627.32L1182.46 626.63L1183.79 625.95L1185.13 625.28L1186.48 624.62L1187.83 623.97L1189.19 623.34L1190.56 622.72L1191.93 622.11L1193.31 621.52L1194.69 620.94L1196.08 620.37L1197.47 619.81L1198.87 619.27L1200.27 618.74L1201.68 618.22L1203.1 617.72L1204.52 617.23L1205.95 616.75L1207.38 616.29L1208.82 615.84L1210.26 615.4L1211.71 614.98L1213.16 614.57L1214.62 614.18L1216.08 613.79L1217.54 613.42L1219.01 613.07L1220.48 612.73L1221.96 612.4L1223.43 612.08L1224.92 611.77L1226.4 611.48L1227.89 611.2L1229.38 610.94L1230.87 610.69L1232.37 610.45L1233.87 610.22L1235.37 610.01L1236.87 609.81L1238.37 609.62L1239.88 609.44L1241.38 609.28L1242.89 609.13L1244.4 608.99L1245.91 608.87L1247.42 608.75L1248.93 608.65L1250.44 608.56L1251.96 608.49L1253.47 608.43L1254.98 608.37L1256.49 608.34L1258 608.31L1259.51 608.3L1261.02 608.29L1262.53 608.3L1264.04 608.33L1265.55 608.36L1267.05 608.41L1268.56 608.46L1270.06 608.53L1271.56 608.61L1273.06 608.71L1274.56 608.81L1276.06 608.92L1277.56 609.04L1279.05 609.17L1280.55 609.32L1282.04 609.47L1283.53 609.63L1285.03 609.8L1286.52 609.97L1288.01 610.16L1289.5 610.35L1290.99 610.55L1292.47 610.76L1293.96 610.97L1295.45 611.2L1296.93 611.42L1298.42 611.66L1299.9 611.9L1301.38 612.15L1302.87 612.4L1304.35 612.65L1305.83 612.91L1307.31 613.18L1308.79 613.45L1310.27 613.72L1311.76 614L1313.24 614.28L1314.71 614.57L1316.19 614.85L1317.67 615.14L1319.15 615.44L1320.63 615.73L1322.11 616.03L1323.59 616.32L1325.07 616.62L1326.54 616.92L1328.02 617.22L1329.5 617.52L1330.98 617.83L1332.46 618.13L1333.93 618.43L1335.41 618.73L1336.89 619.03L1338.37 619.32L1339.85 619.62L1341.33 619.92L1342.81 620.21L1344.29 620.51L1345.77 620.8L1347.25 621.1L1348.72 621.39L1350.2 621.68L1351.68 621.98L1353.16 622.27L1354.64 622.56L1356.12 622.85L1357.6 623.15L1359.08 623.44L1360.56 623.73L1362.04 624.02L1363.52 624.31L1365 624.6L1366.48 624.9L1367.96 625.19L1369.44 625.48L1370.92 625.77L1372.4 626.06L1373.87 626.36L1375.35 626.65L1376.83 626.94L1378.31 627.24L1379.79 627.53L1381.27 627.83L1382.74 628.13L1384.22 628.42L1385.7 628.72L1387.18 629.02L1388.65 629.32L1390.13 629.62L1391.61 629.92L1393.08 630.22L1394.56 630.53L1396.04 630.83L1397.51 631.14L1398.99 631.44L1400.46 631.75L1401.94 632.06L1403.41 632.37L1404.88 632.69L1406.36 633L1407.83 633.31L1409.3 633.63L1410.78 633.95L1412.25 634.27L1413.72 634.59L1415.19 634.92L1416.66 635.24L1418.13 635.57L1419.6 635.9L1421.07 636.23L1422.54 636.56L1424.01 636.9L1425.48 637.24L1426.95 637.58L1428.41 637.92L1429.88 638.26L1431.34 638.61L1432.81 638.96L1434.27 639.31L1435.74 639.66L1437.2 640.02L1438.67 640.38L1440.13 640.74L1441.59 641.1L1443.05 641.47L1444.51 641.84L1445.97 642.21L1447.43 642.58L1448.89 642.95L1450.35 643.33L1451.81 643.7L1453.27 644.08L1454.73 644.46L1456.19 644.85L1457.64 645.23L1459.1 645.62L1460.56 646L1462.01 646.39L1463.47 646.78L1464.92 647.17L1466.38 647.56L1467.83 647.96L1469.29 648.35L1470.74 648.75L1472.2 649.14L1473.65 649.54L1475.11 649.94L1476.56 650.33L1478.01 650.73L1479.47 651.13L1480.92 651.53L1482.37 651.93L1483.83 652.33L1485.28 652.73L1486.73 653.14L1488.19 653.54L1489.64 653.94L1491.09 654.34L1492.55 654.74L1494 655.14L1495.45 655.54L1496.9 655.95L1498.36 656.35L1499.81 656.75L1501.26 657.15L1502.72 657.55L1504.17 657.95L1505.62 658.34L1507.08 658.74L1508.53 659.14L1509.99 659.53L1511.44 659.93L1512.89 660.32L1514.35 660.72L1515.8 661.11L1517.26 661.5L1518.71 661.89L1520.17 662.28L1521.62 662.66L1523.08 663.05L1524.54 663.43L1525.99 663.82" stroke="#1f77b4" stroke-width="4.8"/>
</g>
<g clip-path="url(#cb6)" fill="none" stroke-linejoin="round">
<circle cx="1255.85" cy="884.25" r="9.7" fill="#ff0000"/>
<path d="M1040 968.4L1192.4 968.4L1192.41 968.4L1193.03 966.99L1193.67 965.59L1194.31 964.19L1194.97 962.8L1195.63 961.4L1196.3 960.02L1196.98 958.63L1197.67 957.26L1198.37 955.88L1199.08 954.51L1199.8 953.15L1200.52 951.79L1201.26 950.44L1202.01 949.09L1202.76 947.74L1203.52 946.4L1204.29 945.07L1205.07 943.74L1205.86 942.41L1206.66 941.09L1207.47 939.78L1208.28 938.47L1209.11 937.17L1209.94 935.87L1210.78 934.58L1211.63 933.29L1212.49 932.01L1213.36 930.74L1214.23 929.47L1215.12 928.21L1216.01 926.95L1216.91 925.7L1217.82 924.46L1218.74 923.22L1219.66 921.98L1220.6 920.76L1221.54 919.54L1222.49 918.33L1223.45 917.12L1224.42 915.92L1225.39 914.72L1226.37 913.54L1227.36 912.36L1228.36 911.18L1229.37 910.02L1230.39 908.86L1231.41 907.71L1232.44 906.56L1233.48 905.42L1234.53 904.29L1235.58 903.17L1236.64 902.05L1237.71 900.94L1238.79 899.84L1239.87 898.74L1240.97 897.66L1242.07 896.58L1243.17 895.51L1244.29 894.44L1245.41 893.39L1246.54 892.34L1247.68 891.3L1248.83 890.27L1249.98 889.24L1251.14 888.23L1252.3 887.22L1253.48 886.22L1254.66 885.23L1255.85 884.25" stroke="#1f77b4" stroke-width="4.8"/>
<path d="M1255.59 884.07L1256.82 883.14L1258.06 882.22L1259.3 881.31L1260.55 880.41L1261.81 879.53L1263.07 878.65L1264.33 877.79L1265.6 876.94L1266.88 876.1L1268.16 875.27L1269.44 874.45L1270.73 873.64L1272.02 872.84L1273.32 872.05L1274.62 871.27L1275.93 870.5L1277.24 869.74L1278.56 869L1279.88 868.26L1281.2 867.53L1282.53 866.81L1283.87 866.11L1285.2 865.41L1286.54 864.72L1287.89 864.04L1289.24 863.37L1290.59 862.71L1291.95 862.06L1293.31 861.41L1294.68 860.78L1296.05 860.16L1297.42 859.54L1298.79 858.93L1300.17 858.33L1301.56 857.74L1302.94 857.16L1304.33 856.59L1305.73 856.03L1307.12 855.47L1308.52 854.92L1309.93 854.38L1311.33 853.85L1312.74 853.32L1314.16 852.81L1315.57 852.3L1316.99 851.8L1318.41 851.3L1319.83 850.81L1321.26 850.33L1322.69 849.86L1324.12 849.4L1325.56 848.94L1327 848.49L1328.44 848.04L1329.88 847.61L1331.32 847.18L1332.77 846.75L1334.22 846.33L1335.67 845.92L1337.12 845.52L1338.58 845.12L1340.04 844.72L1341.5 844.34L1342.96 843.96L1344.43 843.58L1345.89 843.21L1347.36 842.85L1348.83 842.49L1350.3 842.14L1351.77 841.79L1353.25 841.45L1354.72 841.11L1356.2 840.78L1357.68 840.46L1359.16 840.13L1360.64 839.82L1362.13 839.51L1363.61 839.2L1365.1 838.9L1366.58 838.6L1368.07 838.3L1369.56 838.02L1371.05 837.73L1372.54 837.45L1374.03 837.17L1375.52 836.9L1377.02 836.63L1378.51 836.37L1380.01 836.1L1381.5 835.85L1383 835.59L1384.49 835.34L1385.99 835.09L1387.49 834.85L1388.98 834.61L1390.48 834.37L1391.98 834.14L1393.48 833.9L1394.98 833.68L1396.48 833.45L1397.98 833.23L1399.48 833.01L1400.98 832.79L1402.48 832.58L1403.98 832.37L1405.48 832.16L1406.98 831.95L1408.48 831.75L1409.99 831.55L1411.49 831.35L1412.99 831.16L1414.5 830.97L1416 830.78L1417.5 830.59L1419.01 830.4L1420.51 830.22L1422.01 830.04L1423.52 829.86L1425.02 829.69L1426.53 829.52L1428.03 829.35L1429.54 829.18L1431.05 829.01L1432.55 828.85L1434.06 828.69L1435.56 828.53L1437.07 828.37L1438.58 828.21L1440.08 828.06L1441.59 827.91L1443.09 827.76L1444.6 827.61L1446.11 827.46L1447.62 827.32L1449.12 827.18L1450.63 827.04L1452.14 826.9L1453.64 826.76L1455.15 826.62L1456.66 826.49L1458.17 826.35L1459.67 826.22L1461.18 826.09L1462.69 825.96L1464.2 825.84L1465.7 825.71L1467.21 825.59L1468.72 825.46L1470.23 825.34L1471.73 825.22L1473.24 825.1L1474.75 824.98L1476.25 824.86L1477.76 824.75L1479.27 824.63L1480.78 824.52L1482.28 824.4L1483.79 824.29L1485.3 824.18L1486.8 824.07L1488.31 823.96L1489.82 823.85L1491.32 823.74L1492.83 823.63L1494.33 823.52L1495.84 823.41L1497.35 823.31L1498.85 823.2L1500.36 823.1L1501.86 822.99L1503.37 822.89L1504.87 822.78L1506.37 822.68L1507.88 822.57L1509.38 822.47L1510.89 822.37L1512.39 822.26L1513.89 822.16L1515.4 822.06L1516.9 821.96L1518.4 821.85L1519.9 821.75L1521.41 821.65L1522.91 821.55L1524.41 821.44L1525.91 821.34" stroke="#ff0000" stroke-width="4.8"/>
<path d="M1255.85 985.3V800.1" stroke="#808080" stroke-width="4.1" stroke-dasharray="15.6 6.98"/>
<path d="M1050.7 884.25H1525.1" stroke="#808080" stroke-width="4.1" stroke-dasharray="15.6 6.98" stroke-dashoffset="0.6"/>
</g>
<path d="M1050.7 581H1525.1V985.3H1050.7ZM1050.7 783.2H1525.1" stroke="#000" stroke-width="2.9" fill="none" stroke-linejoin="miter"/>
<text x="1287.9" y="564.2" font-size="34.3" text-anchor="middle" letter-spacing="-0.2">GRB 190829A</text>
<text x="1135.1" y="1017.2" font-size="29.0" text-anchor="middle">0</text>
<text x="1238.95" y="1017.2" font-size="29.0" text-anchor="middle">1</text>
<text x="1342.8" y="1017.2" font-size="29.0" text-anchor="middle">2</text>
<text x="1446.65" y="1017.2" font-size="29.0" text-anchor="middle">3</text>
<text x="1286.7" y="1058.7" font-size="34.3" text-anchor="middle"><tspan font-style="italic">t</tspan> (s)</text>
<path d="M1248 725.3H1291.7" stroke="#999999" stroke-width="4.3"/>
<path d="M1248 754.45H1291.7" stroke="#1f77b4" stroke-width="4.8"/>
<text x="1304.6" y="732.6" font-size="19.7">observed light curve</text>
<text x="1304.6" y="761.75" font-size="19.7">model</text>
<text font-size="27.5" y="916.45"><tspan x="1282.45" font-style="italic">t</tspan><tspan x="1293.45" dy="4.8" font-size="19.25">tr</tspan><tspan x="1315.85" dy="-4.8">=</tspan><tspan x="1344.95" letter-spacing="0.45">1.16</tspan></text>
</g>
<g id="panel7">
<path d="M1585.95 783.2v-14.2M1585.95 985.3v-14.2M1690.2 783.2v-14.2M1690.2 985.3v-14.2M1794.5 783.2v-14.2M1794.5 985.3v-14.2M1898.6 783.2v-14.2M1898.6 985.3v-14.2M1525.1 597.9h14.2M1525.1 682.2h14.2M1525.1 766.4h14.2M1525.1 800.1h14.2M1525.1 884.25h14.2M1525.1 968.4h14.2" stroke="#000" stroke-width="2.1" fill="none"/>
<g clip-path="url(#ct7)" fill="none" stroke-linejoin="round">
<path d="M1512.77 683.6H1538.8V654.3H1564.83V634.3H1590.86V598H1616.89V633.05H1642.92V661.6H1668.95V671H1694.98V715.3H1721.01V686.8H1747.04V725.8H1773.07V682.5H1799.1V707.55H1825.13V711.7H1851.16V704.4H1877.19V716.3H1903.22V725.7H1929.25V735.1H1955.28V770.4H1981.31V715.05H2007.34" stroke="#808080" stroke-opacity="0.8" stroke-width="4.3"/>
<path d="M1525.98 768.03L1526.2 766.53L1526.41 765.03L1526.63 763.53L1526.84 762.03L1527.05 760.53L1527.25 759.03L1527.46 757.53L1527.66 756.04L1527.87 754.54L1528.07 753.04L1528.27 751.55L1528.48 750.05L1528.68 748.56L1528.88 747.07L1529.09 745.57L1529.29 744.08L1529.5 742.59L1529.71 741.1L1529.92 739.61L1530.13 738.12L1530.34 736.63L1530.55 735.14L1530.77 733.65L1530.99 732.17L1531.21 730.68L1531.44 729.2L1531.67 727.71L1531.9 726.23L1532.14 724.75L1532.38 723.27L1532.63 721.79L1532.88 720.31L1533.14 718.83L1533.4 717.36L1533.66 715.88L1533.94 714.41L1534.21 712.93L1534.5 711.46L1534.79 709.99L1535.08 708.52L1535.39 707.05L1535.7 705.59L1536.02 704.12L1536.34 702.66L1536.67 701.2L1537.02 699.73L1537.37 698.27L1537.72 696.82L1538.09 695.36L1538.47 693.9L1538.85 692.45L1539.24 691L1539.65 689.55L1540.06 688.1L1540.49 686.65L1540.92 685.2L1541.36 683.76L1541.82 682.32L1542.29 680.87L1542.77 679.44L1543.26 678L1543.76 676.56L1544.27 675.13L1544.8 673.7L1545.34 672.27L1545.9 670.85L1546.47 669.44L1547.06 668.04L1547.68 666.65L1548.31 665.27L1548.96 663.9L1549.63 662.54L1550.33 661.2L1551.06 659.88L1551.8 658.57L1552.58 657.29L1553.38 656.02L1554.22 654.78L1555.08 653.55L1555.97 652.36L1556.9 651.19L1557.86 650.04L1558.86 648.93L1559.89 647.84L1560.95 646.79L1562.05 645.77L1563.18 644.78L1564.34 643.84L1565.54 642.93L1566.76 642.07L1568.01 641.25L1569.29 640.47L1570.59 639.75L1571.92 639.07L1573.26 638.45L1574.64 637.87L1576.03 637.35L1577.44 636.87L1578.86 636.43L1580.31 636.04L1581.77 635.7L1583.24 635.39L1584.72 635.13L1586.21 634.91L1587.72 634.72L1589.23 634.57L1590.74 634.45L1592.26 634.37L1593.79 634.32L1595.32 634.3L1596.84 634.31L1598.37 634.35L1599.9 634.42L1601.42 634.51L1602.94 634.63L1604.45 634.77L1605.95 634.93L1607.45 635.11L1608.95 635.32L1610.43 635.54L1611.92 635.78L1613.4 636.04L1614.87 636.32L1616.35 636.61L1617.81 636.92L1619.28 637.24L1620.74 637.58L1622.2 637.92L1623.65 638.28L1625.1 638.66L1626.55 639.04L1628 639.43L1629.45 639.82L1630.89 640.23L1632.33 640.64L1633.78 641.06L1635.22 641.48L1636.66 641.91L1638.1 642.33L1639.54 642.77L1640.97 643.2L1642.41 643.63L1643.85 644.06L1645.29 644.5L1646.73 644.93L1648.17 645.37L1649.61 645.8L1651.05 646.24L1652.49 646.68L1653.93 647.11L1655.37 647.55L1656.82 647.99L1658.26 648.42L1659.7 648.86L1661.14 649.3L1662.58 649.74L1664.02 650.17L1665.46 650.61L1666.91 651.04L1668.35 651.48L1669.79 651.92L1671.23 652.35L1672.68 652.79L1674.12 653.22L1675.57 653.65L1677.01 654.08L1678.45 654.51L1679.9 654.94L1681.34 655.37L1682.79 655.8L1684.23 656.23L1685.68 656.66L1687.12 657.08L1688.57 657.5L1690.02 657.92L1691.46 658.35L1692.91 658.76L1694.36 659.18L1695.81 659.6L1697.25 660.01L1698.7 660.43L1700.15 660.84L1701.6 661.25L1703.05 661.66L1704.5 662.08L1705.95 662.49L1707.39 662.9L1708.84 663.31L1710.29 663.71L1711.74 664.12L1713.19 664.53L1714.64 664.94L1716.09 665.35L1717.54 665.76L1718.99 666.16L1720.43 666.57L1721.88 666.98L1723.33 667.39L1724.78 667.8L1726.23 668.21L1727.67 668.62L1729.12 669.04L1730.57 669.45L1732.01 669.86L1733.46 670.28L1734.91 670.69L1736.35 671.11L1737.8 671.53L1739.24 671.95L1740.68 672.37L1742.13 672.79L1743.57 673.22L1745.01 673.65L1746.46 674.07L1747.9 674.5L1749.34 674.94L1750.78 675.37L1752.22 675.81L1753.66 676.24L1755.1 676.68L1756.53 677.12L1757.97 677.57L1759.41 678.01L1760.85 678.45L1762.28 678.89L1763.72 679.34L1765.16 679.78L1766.6 680.22L1768.03 680.66L1769.47 681.1L1770.91 681.54L1772.35 681.97L1773.79 682.41L1775.23 682.84L1776.67 683.26L1778.12 683.69L1779.56 684.11L1781.01 684.53L1782.45 684.94L1783.9 685.35L1785.34 685.76L1786.79 686.17L1788.24 686.57L1789.69 686.97L1791.14 687.37L1792.59 687.76L1794.04 688.16L1795.5 688.55L1796.95 688.93L1798.4 689.32L1799.86 689.7L1801.31 690.08L1802.77 690.45L1804.23 690.83L1805.69 691.2L1807.14 691.57L1808.6 691.94L1810.06 692.3L1811.52 692.66L1812.98 693.02L1814.44 693.38L1815.91 693.74L1817.37 694.09L1818.83 694.44L1820.3 694.79L1821.76 695.14L1823.22 695.49L1824.69 695.83L1826.16 696.18L1827.62 696.52L1829.09 696.85L1830.56 697.19L1832.02 697.53L1833.49 697.86L1834.96 698.19L1836.43 698.52L1837.9 698.85L1839.37 699.18L1840.84 699.51L1842.31 699.83L1843.78 700.15L1845.25 700.48L1846.72 700.8L1848.19 701.12L1849.67 701.43L1851.14 701.75L1852.61 702.07L1854.08 702.38L1855.56 702.7L1857.03 703.01L1858.5 703.32L1859.98 703.63L1861.45 703.94L1862.93 704.25L1864.4 704.56L1865.88 704.87L1867.35 705.17L1868.83 705.48L1870.3 705.78L1871.78 706.09L1873.25 706.39L1874.73 706.7L1876.2 707L1877.68 707.3L1879.15 707.6L1880.63 707.91L1882.11 708.21L1883.58 708.51L1885.06 708.81L1886.53 709.11L1888.01 709.41L1889.48 709.71L1890.96 710.01L1892.44 710.31L1893.91 710.61L1895.39 710.91L1896.86 711.21L1898.34 711.51L1899.81 711.81L1901.29 712.11L1902.76 712.41L1904.24 712.71L1905.71 713.01L1907.19 713.31L1908.66 713.62L1910.14 713.92L1911.61 714.22L1913.09 714.52L1914.56 714.82L1916.04 715.12L1917.51 715.42L1918.99 715.72L1920.46 716.02L1921.94 716.31L1923.41 716.61L1924.89 716.91L1926.36 717.21L1927.84 717.5L1929.31 717.8L1930.79 718.09L1932.26 718.38L1933.74 718.68L1935.21 718.97L1936.69 719.26L1938.17 719.55L1939.64 719.84L1941.12 720.12L1942.6 720.41L1944.07 720.69L1945.55 720.98L1947.03 721.26L1948.51 721.54L1949.98 721.82L1951.46 722.1L1952.94 722.37L1954.42 722.65L1955.9 722.92L1957.38 723.19L1958.86 723.46L1960.34 723.72L1961.82 723.99L1963.3 724.25L1964.79 724.51L1966.27 724.77L1967.75 725.03L1969.23 725.28L1970.72 725.54L1972.2 725.78L1973.69 726.03L1975.17 726.28L1976.66 726.52L1978.15 726.76L1979.63 727L1981.12 727.23L1982.61 727.47L1984.1 727.69L1985.59 727.92L1987.08 728.15L1988.57 728.37L1990.06 728.58L1991.55 728.8L1993.05 729.01L1994.54 729.22L1996.03 729.43L1997.53 729.63L1999.03 729.83L2000.52 730.02" stroke="#1f77b4" stroke-width="4.8"/>
</g>
<g clip-path="url(#cb7)" fill="none" stroke-linejoin="round">
<circle cx="1760" cy="884.25" r="9.7" fill="#ff0000"/>
<path d="M1515 968.4L1661.4 968.4L1661.41 968.47L1662.21 967.15L1663.02 965.84L1663.85 964.54L1664.69 963.24L1665.53 961.96L1666.39 960.68L1667.26 959.41L1668.14 958.16L1669.03 956.91L1669.92 955.66L1670.83 954.43L1671.75 953.21L1672.68 951.99L1673.62 950.79L1674.57 949.59L1675.53 948.4L1676.5 947.22L1677.48 946.05L1678.46 944.89L1679.46 943.73L1680.46 942.59L1681.48 941.45L1682.5 940.32L1683.53 939.2L1684.57 938.08L1685.62 936.98L1686.68 935.88L1687.75 934.79L1688.82 933.71L1689.9 932.64L1690.99 931.58L1692.09 930.52L1693.2 929.47L1694.31 928.43L1695.43 927.4L1696.56 926.38L1697.69 925.36L1698.84 924.35L1699.99 923.35L1701.14 922.36L1702.31 921.37L1703.48 920.39L1704.66 919.42L1705.84 918.46L1707.03 917.5L1708.23 916.56L1709.43 915.62L1710.64 914.68L1711.86 913.76L1713.08 912.84L1714.3 911.93L1715.54 911.03L1716.78 910.13L1718.02 909.24L1719.27 908.36L1720.52 907.48L1721.78 906.62L1723.05 905.76L1724.32 904.9L1725.59 904.06L1726.87 903.22L1728.15 902.38L1729.44 901.56L1730.73 900.74L1732.03 899.93L1733.33 899.12L1734.64 898.33L1735.95 897.53L1737.26 896.75L1738.58 895.97L1739.9 895.2L1741.22 894.43L1742.55 893.68L1743.88 892.92L1745.21 892.18L1746.55 891.44L1747.89 890.71L1749.23 889.98L1750.58 889.26L1751.92 888.55L1753.28 887.84L1754.63 887.14L1755.98 886.44L1757.34 885.76L1758.7 885.07L1760.06 884.4" stroke="#1f77b4" stroke-width="4.8"/>
<path d="M1759.92 884.13L1761.32 883.55L1762.73 882.98L1764.13 882.41L1765.54 881.84L1766.95 881.29L1768.36 880.73L1769.78 880.18L1771.19 879.63L1772.6 879.09L1774.02 878.56L1775.44 878.02L1776.86 877.49L1778.28 876.97L1779.7 876.45L1781.12 875.93L1782.55 875.42L1783.97 874.91L1785.4 874.41L1786.83 873.91L1788.26 873.41L1789.69 872.92L1791.12 872.44L1792.55 871.95L1793.99 871.47L1795.42 871L1796.86 870.53L1798.3 870.06L1799.74 869.6L1801.18 869.14L1802.62 868.69L1804.06 868.23L1805.51 867.79L1806.95 867.34L1808.4 866.9L1809.84 866.47L1811.29 866.04L1812.74 865.61L1814.19 865.18L1815.64 864.76L1817.1 864.35L1818.55 863.93L1820 863.52L1821.46 863.12L1822.92 862.72L1824.37 862.32L1825.83 861.92L1827.29 861.53L1828.75 861.15L1830.21 860.76L1831.67 860.38L1833.14 860L1834.6 859.63L1836.07 859.26L1837.53 858.89L1839 858.53L1840.47 858.17L1841.94 857.81L1843.41 857.46L1844.88 857.11L1846.35 856.77L1847.82 856.42L1849.29 856.08L1850.76 855.75L1852.24 855.41L1853.71 855.08L1855.19 854.76L1856.67 854.43L1858.14 854.11L1859.62 853.8L1861.1 853.48L1862.58 853.17L1864.06 852.87L1865.54 852.56L1867.02 852.26L1868.51 851.96L1869.99 851.67L1871.47 851.37L1872.96 851.08L1874.44 850.8L1875.93 850.51L1877.42 850.23L1878.9 849.96L1880.39 849.68L1881.88 849.41L1883.37 849.14L1884.86 848.88L1886.35 848.61L1887.84 848.35L1889.33 848.09L1890.82 847.84L1892.31 847.59L1893.81 847.34L1895.3 847.09L1896.79 846.85L1898.29 846.6L1899.78 846.37L1901.28 846.13L1902.77 845.9L1904.27 845.67L1905.76 845.44L1907.26 845.21L1908.76 844.99L1910.26 844.77L1911.75 844.55L1913.25 844.33L1914.75 844.12L1916.25 843.91L1917.75 843.7L1919.25 843.49L1920.75 843.29L1922.25 843.09L1923.75 842.89L1925.25 842.69L1926.75 842.5L1928.25 842.3L1929.76 842.11L1931.26 841.93L1932.76 841.74L1934.26 841.56L1935.77 841.38L1937.27 841.2L1938.77 841.02L1940.28 840.84L1941.78 840.67L1943.28 840.5L1944.79 840.33L1946.29 840.16L1947.8 840L1949.3 839.84L1950.81 839.68L1952.31 839.52L1953.82 839.36L1955.32 839.21L1956.83 839.05L1958.33 838.9L1959.84 838.75L1961.34 838.61L1962.85 838.46L1964.35 838.32L1965.86 838.17L1967.36 838.03L1968.87 837.89L1970.37 837.76L1971.88 837.62L1973.38 837.49L1974.89 837.36L1976.39 837.23L1977.9 837.1L1979.4 836.97L1980.91 836.85L1982.41 836.72L1983.92 836.6L1985.42 836.48L1986.93 836.36L1988.43 836.24L1989.94 836.13L1991.44 836.01L1992.94 835.9L1994.45 835.79L1995.95 835.68L1997.46 835.57L1998.96 835.46L2000.46 835.35" stroke="#ff0000" stroke-width="4.8"/>
<path d="M1760 985.3V800.1" stroke="#808080" stroke-width="4.1" stroke-dasharray="15.6 6.98"/>
<path d="M1525.1 884.25H1999.5" stroke="#808080" stroke-width="4.1" stroke-dasharray="15.6 6.98" stroke-dashoffset="0.6"/>
</g>
<path d="M1525.1 581H1999.5V985.3H1525.1ZM1525.1 783.2H1999.5" stroke="#000" stroke-width="2.9" fill="none" stroke-linejoin="miter"/>
<text x="1762.3" y="564.2" font-size="34.3" text-anchor="middle" letter-spacing="-0.2">GRB 210204A</text>
<text x="1585.95" y="1017.2" font-size="29.0" text-anchor="middle">34</text>
<text x="1690.2" y="1017.2" font-size="29.0" text-anchor="middle">36</text>
<text x="1794.5" y="1017.2" font-size="29.0" text-anchor="middle">38</text>
<text x="1898.6" y="1017.2" font-size="29.0" text-anchor="middle">40</text>
<text x="1761.1" y="1058.7" font-size="34.3" text-anchor="middle"><tspan font-style="italic">t</tspan> (s)</text>
<path d="M1722.4 606.5H1766.1" stroke="#999999" stroke-width="4.3"/>
<path d="M1722.4 635.5H1766.1" stroke="#1f77b4" stroke-width="4.8"/>
<text x="1779" y="613.8" font-size="19.7">observed light curve</text>
<text x="1779" y="642.8" font-size="19.7">model</text>
<text font-size="27.5" y="916.45"><tspan x="1786.7" font-style="italic">t</tspan><tspan x="1797.7" dy="4.8" font-size="19.25">tr</tspan><tspan x="1820.1" dy="-4.8">=</tspan><tspan x="1849.2" letter-spacing="0.45">37.34</tspan></text>
</g>
</svg>
</body></html>
